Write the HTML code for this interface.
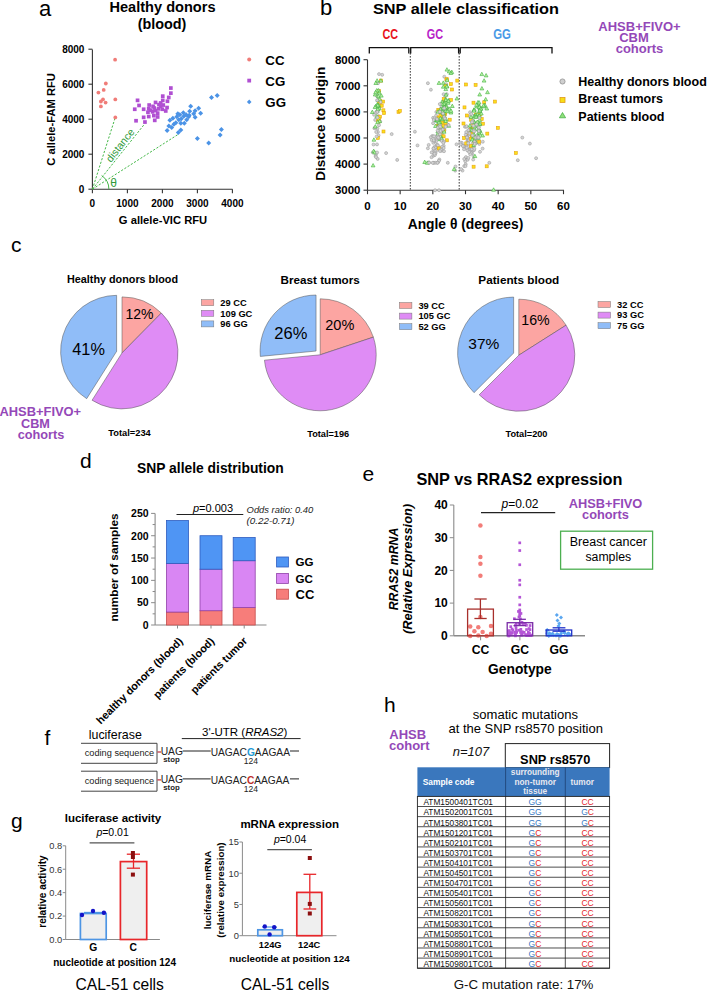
<!DOCTYPE html>
<html><head><meta charset="utf-8"><style>
html,body{margin:0;padding:0;background:#fff;width:707px;height:991px;overflow:hidden}
svg{display:block;font-family:"Liberation Sans", sans-serif}
</style></head><body>
<svg width="707" height="991" viewBox="0 0 707 991">
<text x="39" y="15.5" font-size="22" text-anchor="start" fill="#000">a</text>
<text x="162.5" y="12" font-size="14.3" font-weight="bold" text-anchor="middle" fill="#000" textLength="106" lengthAdjust="spacingAndGlyphs">Healthy donors</text>
<text x="162" y="29.4" font-size="14.3" font-weight="bold" text-anchor="middle" fill="#000" textLength="48.7" lengthAdjust="spacingAndGlyphs">(blood)</text>
<line x1="92.4" y1="189.2" x2="92.4" y2="49.4" stroke="#333" stroke-width="1.1"/>
<line x1="92.4" y1="189.2" x2="232.5" y2="189.2" stroke="#333" stroke-width="1.1"/>
<line x1="88.4" y1="189.2" x2="92.4" y2="189.2" stroke="#333" stroke-width="1.1"/>
<text x="84.4" y="192.79999999999998" font-size="10" font-weight="bold" text-anchor="end" fill="#000">0</text>
<line x1="88.4" y1="154.2" x2="92.4" y2="154.2" stroke="#333" stroke-width="1.1"/>
<text x="84.4" y="157.79999999999998" font-size="10" font-weight="bold" text-anchor="end" fill="#000">2000</text>
<line x1="88.4" y1="119.19999999999999" x2="92.4" y2="119.19999999999999" stroke="#333" stroke-width="1.1"/>
<text x="84.4" y="122.79999999999998" font-size="10" font-weight="bold" text-anchor="end" fill="#000">4000</text>
<line x1="88.4" y1="84.19999999999997" x2="92.4" y2="84.19999999999997" stroke="#333" stroke-width="1.1"/>
<text x="84.4" y="87.79999999999997" font-size="10" font-weight="bold" text-anchor="end" fill="#000">6000</text>
<line x1="88.4" y1="49.19999999999999" x2="92.4" y2="49.19999999999999" stroke="#333" stroke-width="1.1"/>
<text x="84.4" y="52.79999999999999" font-size="10" font-weight="bold" text-anchor="end" fill="#000">8000</text>
<line x1="92.4" y1="189.2" x2="92.4" y2="193.2" stroke="#333" stroke-width="1.1"/>
<text x="92.4" y="207" font-size="10" font-weight="bold" text-anchor="middle" fill="#000">0</text>
<line x1="127.4" y1="189.2" x2="127.4" y2="193.2" stroke="#333" stroke-width="1.1"/>
<text x="127.4" y="207" font-size="10" font-weight="bold" text-anchor="middle" fill="#000">1000</text>
<line x1="162.4" y1="189.2" x2="162.4" y2="193.2" stroke="#333" stroke-width="1.1"/>
<text x="162.4" y="207" font-size="10" font-weight="bold" text-anchor="middle" fill="#000">2000</text>
<line x1="197.40000000000003" y1="189.2" x2="197.40000000000003" y2="193.2" stroke="#333" stroke-width="1.1"/>
<text x="197.40000000000003" y="207" font-size="10" font-weight="bold" text-anchor="middle" fill="#000">3000</text>
<line x1="232.4" y1="189.2" x2="232.4" y2="193.2" stroke="#333" stroke-width="1.1"/>
<text x="232.4" y="207" font-size="10" font-weight="bold" text-anchor="middle" fill="#000">4000</text>
<text x="55" y="119.4" font-size="11.2" font-weight="bold" text-anchor="middle" fill="#000" transform="rotate(-90 55 119.4)">C allele-FAM RFU</text>
<text x="163" y="224" font-size="11.2" font-weight="bold" text-anchor="middle" fill="#000">G allele-VIC RFU</text>
<line x1="92.4" y1="189.2" x2="115.3" y2="117.4" stroke="#44b848" stroke-width="1.0" stroke-dasharray="2.2,1.6"/>
<line x1="92.4" y1="189.2" x2="145" y2="123.5" stroke="#44b848" stroke-width="1.0" stroke-dasharray="2.2,1.6"/>
<line x1="92.4" y1="189.2" x2="178" y2="134.5" stroke="#44b848" stroke-width="1.0" stroke-dasharray="2.2,1.6"/>
<path d="M 108.9 189.2 A 16.5 16.5 0 0 0 101.63 175.52" fill="none" stroke="#44b848" stroke-width="1"/>
<text x="113.5" y="186.5" font-size="12" text-anchor="middle" fill="#2f9a3a">θ</text>
<text x="123" y="147.5" font-size="10.5" text-anchor="middle" fill="#2f9a3a" transform="rotate(-52 123 147.5)">distance</text>
<circle cx="115.1" cy="59.7" r="1.9" fill="#f07c78" stroke="none" stroke-width="0.6"/>
<circle cx="105.8" cy="83.5" r="1.9" fill="#f07c78" stroke="none" stroke-width="0.6"/>
<circle cx="103.7" cy="89.9" r="1.9" fill="#f07c78" stroke="none" stroke-width="0.6"/>
<circle cx="98.4" cy="92.6" r="1.9" fill="#f07c78" stroke="none" stroke-width="0.6"/>
<circle cx="103.0" cy="99.4" r="1.9" fill="#f07c78" stroke="none" stroke-width="0.6"/>
<circle cx="100.9" cy="101.5" r="1.9" fill="#f07c78" stroke="none" stroke-width="0.6"/>
<circle cx="105.6" cy="102.6" r="1.9" fill="#f07c78" stroke="none" stroke-width="0.6"/>
<circle cx="100.9" cy="106.4" r="1.9" fill="#f07c78" stroke="none" stroke-width="0.6"/>
<circle cx="115.3" cy="99.4" r="1.9" fill="#f07c78" stroke="none" stroke-width="0.6"/>
<circle cx="115.3" cy="117.4" r="1.9" fill="#f07c78" stroke="none" stroke-width="0.6"/>
<rect x="169.0" y="86.2" width="3.7" height="3.7" fill="#b04fd2" stroke="none" stroke-width="1"/>
<rect x="169.0" y="91.3" width="3.7" height="3.7" fill="#b04fd2" stroke="none" stroke-width="1"/>
<rect x="160.9" y="94.3" width="3.7" height="3.7" fill="#b04fd2" stroke="none" stroke-width="1"/>
<rect x="166.9" y="95.6" width="3.7" height="3.7" fill="#b04fd2" stroke="none" stroke-width="1"/>
<rect x="135.7" y="98.5" width="3.7" height="3.7" fill="#b04fd2" stroke="none" stroke-width="1"/>
<rect x="153.7" y="100.6" width="3.7" height="3.7" fill="#b04fd2" stroke="none" stroke-width="1"/>
<rect x="160.9" y="98.5" width="3.7" height="3.7" fill="#b04fd2" stroke="none" stroke-width="1"/>
<rect x="165.6" y="99.4" width="3.7" height="3.7" fill="#b04fd2" stroke="none" stroke-width="1"/>
<rect x="137.2" y="103.6" width="3.7" height="3.7" fill="#b04fd2" stroke="none" stroke-width="1"/>
<rect x="147.3" y="103.2" width="3.7" height="3.7" fill="#b04fd2" stroke="none" stroke-width="1"/>
<rect x="157.1" y="102.8" width="3.7" height="3.7" fill="#b04fd2" stroke="none" stroke-width="1"/>
<rect x="161.4" y="103.2" width="3.7" height="3.7" fill="#b04fd2" stroke="none" stroke-width="1"/>
<rect x="132.9" y="107.4" width="3.7" height="3.7" fill="#b04fd2" stroke="none" stroke-width="1"/>
<rect x="141.8" y="107.4" width="3.7" height="3.7" fill="#b04fd2" stroke="none" stroke-width="1"/>
<rect x="146.9" y="107.0" width="3.7" height="3.7" fill="#b04fd2" stroke="none" stroke-width="1"/>
<rect x="152.4" y="106.2" width="3.7" height="3.7" fill="#b04fd2" stroke="none" stroke-width="1"/>
<rect x="156.7" y="107.0" width="3.7" height="3.7" fill="#b04fd2" stroke="none" stroke-width="1"/>
<rect x="160.5" y="107.4" width="3.7" height="3.7" fill="#b04fd2" stroke="none" stroke-width="1"/>
<rect x="165.2" y="105.7" width="3.7" height="3.7" fill="#b04fd2" stroke="none" stroke-width="1"/>
<rect x="163.9" y="109.1" width="3.7" height="3.7" fill="#b04fd2" stroke="none" stroke-width="1"/>
<rect x="146.1" y="110.4" width="3.7" height="3.7" fill="#b04fd2" stroke="none" stroke-width="1"/>
<rect x="150.7" y="110.0" width="3.7" height="3.7" fill="#b04fd2" stroke="none" stroke-width="1"/>
<rect x="155.8" y="111.3" width="3.7" height="3.7" fill="#b04fd2" stroke="none" stroke-width="1"/>
<rect x="141.8" y="115.5" width="3.7" height="3.7" fill="#b04fd2" stroke="none" stroke-width="1"/>
<rect x="146.9" y="114.7" width="3.7" height="3.7" fill="#b04fd2" stroke="none" stroke-width="1"/>
<rect x="152.0" y="113.8" width="3.7" height="3.7" fill="#b04fd2" stroke="none" stroke-width="1"/>
<rect x="155.8" y="115.1" width="3.7" height="3.7" fill="#b04fd2" stroke="none" stroke-width="1"/>
<rect x="134.2" y="118.9" width="3.7" height="3.7" fill="#b04fd2" stroke="none" stroke-width="1"/>
<rect x="143.1" y="120.2" width="3.7" height="3.7" fill="#b04fd2" stroke="none" stroke-width="1"/>
<rect x="152.9" y="118.5" width="3.7" height="3.7" fill="#b04fd2" stroke="none" stroke-width="1"/>
<rect x="151.2" y="104.5" width="3.7" height="3.7" fill="#b04fd2" stroke="none" stroke-width="1"/>
<rect x="158.8" y="101.1" width="3.7" height="3.7" fill="#b04fd2" stroke="none" stroke-width="1"/>
<rect x="148.6" y="108.3" width="3.7" height="3.7" fill="#b04fd2" stroke="none" stroke-width="1"/>
<rect x="153.7" y="108.7" width="3.7" height="3.7" fill="#b04fd2" stroke="none" stroke-width="1"/>
<rect x="158.8" y="104.5" width="3.7" height="3.7" fill="#b04fd2" stroke="none" stroke-width="1"/>
<path d="M167.1 128.1L169.6 130.6L167.1 133.1L164.6 130.6Z" fill="#4b93e6"/>
<path d="M178.3 130.1L180.8 132.6L178.3 135.1L175.8 132.6Z" fill="#4b93e6"/>
<path d="M180.8 127.6L183.3 130.1L180.8 132.6L178.3 130.1Z" fill="#4b93e6"/>
<path d="M171.7 125.1L174.2 127.6L171.7 130.1L169.2 127.6Z" fill="#4b93e6"/>
<path d="M168.9 123.6L171.4 126.1L168.9 128.6L166.4 126.1Z" fill="#4b93e6"/>
<path d="M169.9 117.7L172.4 120.2L169.9 122.7L167.4 120.2Z" fill="#4b93e6"/>
<path d="M172.9 115.7L175.4 118.2L172.9 120.7L170.4 118.2Z" fill="#4b93e6"/>
<path d="M175.8 120.2L178.3 122.7L175.8 125.2L173.3 122.7Z" fill="#4b93e6"/>
<path d="M178.8 117.2L181.3 119.7L178.8 122.2L176.3 119.7Z" fill="#4b93e6"/>
<path d="M179.8 112.3L182.3 114.8L179.8 117.3L177.3 114.8Z" fill="#4b93e6"/>
<path d="M183.3 110.3L185.8 112.8L183.3 115.3L180.8 112.8Z" fill="#4b93e6"/>
<path d="M181.3 116.2L183.8 118.7L181.3 121.2L178.8 118.7Z" fill="#4b93e6"/>
<path d="M184.3 120.7L186.8 123.2L184.3 125.7L181.8 123.2Z" fill="#4b93e6"/>
<path d="M186.7 117.2L189.2 119.7L186.7 122.2L184.2 119.7Z" fill="#4b93e6"/>
<path d="M188.7 114.2L191.2 116.7L188.7 119.2L186.2 116.7Z" fill="#4b93e6"/>
<path d="M189.7 108.8L192.2 111.3L189.7 113.8L187.2 111.3Z" fill="#4b93e6"/>
<path d="M190.7 103.8L193.2 106.3L190.7 108.8L188.2 106.3Z" fill="#4b93e6"/>
<path d="M189.2 112.7L191.7 115.2L189.2 117.7L186.7 115.2Z" fill="#4b93e6"/>
<path d="M193.7 111.3L196.2 113.8L193.7 116.3L191.2 113.8Z" fill="#4b93e6"/>
<path d="M195.1 114.7L197.6 117.2L195.1 119.7L192.6 117.2Z" fill="#4b93e6"/>
<path d="M195.1 108.3L197.6 110.8L195.1 113.3L192.6 110.8Z" fill="#4b93e6"/>
<path d="M198.6 105.8L201.1 108.3L198.6 110.8L196.1 108.3Z" fill="#4b93e6"/>
<path d="M200.6 110.8L203.1 113.3L200.6 115.8L198.1 113.3Z" fill="#4b93e6"/>
<path d="M183.8 113.7L186.3 116.2L183.8 118.7L181.3 116.2Z" fill="#4b93e6"/>
<path d="M176.8 114.2L179.3 116.7L176.8 119.2L174.3 116.7Z" fill="#4b93e6"/>
<path d="M173.9 121.7L176.4 124.2L173.9 126.7L171.4 124.2Z" fill="#4b93e6"/>
<path d="M186.2 112.3L188.7 114.8L186.2 117.3L183.7 114.8Z" fill="#4b93e6"/>
<path d="M180.8 120.7L183.3 123.2L180.8 125.7L178.3 123.2Z" fill="#4b93e6"/>
<path d="M177.8 111.3L180.3 113.8L177.8 116.3L175.3 113.8Z" fill="#4b93e6"/>
<path d="M211.5 94.9L214.0 97.4L211.5 99.9L209.0 97.4Z" fill="#4b93e6"/>
<path d="M217.2 92.9L219.7 95.4L217.2 97.9L214.7 95.4Z" fill="#4b93e6"/>
<path d="M221.4 127.1L223.9 129.6L221.4 132.1L218.9 129.6Z" fill="#4b93e6"/>
<path d="M220.1 132.5L222.6 135.0L220.1 137.5L217.6 135.0Z" fill="#4b93e6"/>
<path d="M197.4 136.0L199.9 138.5L197.4 141.0L194.9 138.5Z" fill="#4b93e6"/>
<path d="M208.7 140.5L211.2 143.0L208.7 145.5L206.2 143.0Z" fill="#4b93e6"/>
<circle cx="249.2" cy="59.6" r="2" fill="#f07c78" stroke="none" stroke-width="0.6"/>
<text x="265.3" y="64.7" font-size="13.3" font-weight="bold" text-anchor="start" fill="#000">CC</text>
<rect x="247.3" y="78.7" width="3.8" height="3.8" fill="#b04fd2" stroke="none" stroke-width="1"/>
<text x="265.3" y="85.6" font-size="13.3" font-weight="bold" text-anchor="start" fill="#000">CG</text>
<path d="M249.2 99.6L251.5 101.9L249.2 104.2L246.9 101.9Z" fill="#4b93e6"/>
<text x="265.3" y="106.5" font-size="13.3" font-weight="bold" text-anchor="start" fill="#000">GG</text>
<text x="320" y="15" font-size="22" text-anchor="start" fill="#000">b</text>
<text x="466" y="14" font-size="15.5" font-weight="bold" text-anchor="middle" fill="#000" textLength="186" lengthAdjust="spacingAndGlyphs">SNP allele classification</text>
<line x1="367.5" y1="190.2" x2="367.5" y2="59.8" stroke="#333" stroke-width="1.1"/>
<line x1="367.5" y1="190.2" x2="564" y2="190.2" stroke="#333" stroke-width="1.1"/>
<line x1="363.5" y1="190.2" x2="367.5" y2="190.2" stroke="#333" stroke-width="1.1"/>
<text x="360.5" y="194.2" font-size="11.5" font-weight="bold" text-anchor="end" fill="#000">3000</text>
<line x1="363.5" y1="164.1" x2="367.5" y2="164.1" stroke="#333" stroke-width="1.1"/>
<text x="360.5" y="168.1" font-size="11.5" font-weight="bold" text-anchor="end" fill="#000">4000</text>
<line x1="363.5" y1="138.0" x2="367.5" y2="138.0" stroke="#333" stroke-width="1.1"/>
<text x="360.5" y="142.0" font-size="11.5" font-weight="bold" text-anchor="end" fill="#000">5000</text>
<line x1="363.5" y1="111.89999999999998" x2="367.5" y2="111.89999999999998" stroke="#333" stroke-width="1.1"/>
<text x="360.5" y="115.89999999999998" font-size="11.5" font-weight="bold" text-anchor="end" fill="#000">6000</text>
<line x1="363.5" y1="85.79999999999998" x2="367.5" y2="85.79999999999998" stroke="#333" stroke-width="1.1"/>
<text x="360.5" y="89.79999999999998" font-size="11.5" font-weight="bold" text-anchor="end" fill="#000">7000</text>
<line x1="363.5" y1="59.69999999999999" x2="367.5" y2="59.69999999999999" stroke="#333" stroke-width="1.1"/>
<text x="360.5" y="63.69999999999999" font-size="11.5" font-weight="bold" text-anchor="end" fill="#000">8000</text>
<line x1="367.5" y1="190.2" x2="367.5" y2="194.2" stroke="#333" stroke-width="1.1"/>
<text x="367.5" y="210" font-size="11.5" font-weight="bold" text-anchor="middle" fill="#000">0</text>
<line x1="400.1666666666667" y1="190.2" x2="400.1666666666667" y2="194.2" stroke="#333" stroke-width="1.1"/>
<text x="400.1666666666667" y="210" font-size="11.5" font-weight="bold" text-anchor="middle" fill="#000">10</text>
<line x1="432.8333333333333" y1="190.2" x2="432.8333333333333" y2="194.2" stroke="#333" stroke-width="1.1"/>
<text x="432.8333333333333" y="210" font-size="11.5" font-weight="bold" text-anchor="middle" fill="#000">20</text>
<line x1="465.5" y1="190.2" x2="465.5" y2="194.2" stroke="#333" stroke-width="1.1"/>
<text x="465.5" y="210" font-size="11.5" font-weight="bold" text-anchor="middle" fill="#000">30</text>
<line x1="498.16666666666663" y1="190.2" x2="498.16666666666663" y2="194.2" stroke="#333" stroke-width="1.1"/>
<text x="498.16666666666663" y="210" font-size="11.5" font-weight="bold" text-anchor="middle" fill="#000">40</text>
<line x1="530.8333333333334" y1="190.2" x2="530.8333333333334" y2="194.2" stroke="#333" stroke-width="1.1"/>
<text x="530.8333333333334" y="210" font-size="11.5" font-weight="bold" text-anchor="middle" fill="#000">50</text>
<line x1="563.5" y1="190.2" x2="563.5" y2="194.2" stroke="#333" stroke-width="1.1"/>
<text x="563.5" y="210" font-size="11.5" font-weight="bold" text-anchor="middle" fill="#000">60</text>
<text x="324.6" y="123.7" font-size="13.5" font-weight="bold" text-anchor="middle" fill="#000" transform="rotate(-90 324.6 123.7)">Distance to origin</text>
<text x="465.5" y="228.5" font-size="13.8" font-weight="bold" text-anchor="middle" fill="#000">Angle θ (degrees)</text>
<path d="M369.3 53.5V47.6H408.8V53.5" fill="none" stroke="#111" stroke-width="1.3"/>
<path d="M410.7 53.5V47.6H458.6V53.5" fill="none" stroke="#111" stroke-width="1.3"/>
<path d="M460.2 53.5V47.6H552V53.5" fill="none" stroke="#111" stroke-width="1.3"/>
<line x1="410.3" y1="50" x2="410.3" y2="190" stroke="#222" stroke-width="0.9" stroke-dasharray="1.6,1.4"/>
<line x1="459.2" y1="50" x2="459.2" y2="190" stroke="#222" stroke-width="0.9" stroke-dasharray="1.6,1.4"/>
<text x="390.2" y="38.9" font-size="14" font-weight="bold" text-anchor="middle" fill="#e8141c" textLength="15.6" lengthAdjust="spacingAndGlyphs">CC</text>
<text x="435" y="38.9" font-size="14" font-weight="bold" text-anchor="middle" fill="#b81fc8" textLength="16.3" lengthAdjust="spacingAndGlyphs">GC</text>
<text x="502" y="38.9" font-size="14" font-weight="bold" text-anchor="middle" fill="#4a9ae6" textLength="17.7" lengthAdjust="spacingAndGlyphs">GG</text>
<text x="639.5" y="30.5" font-size="13" font-weight="bold" text-anchor="middle" fill="#9448b8">AHSB+FIVO+</text>
<text x="634" y="41.8" font-size="13" font-weight="bold" text-anchor="middle" fill="#9448b8">CBM</text>
<text x="639.5" y="53" font-size="13" font-weight="bold" text-anchor="middle" fill="#9448b8">cohorts</text>
<circle cx="562.5" cy="81.5" r="2.6" fill="#cfcfcf" stroke="#888" stroke-width="0.7"/>
<text x="578.3" y="85.5" font-size="12.5" font-weight="bold" text-anchor="start" fill="#000">Healthy donors blood</text>
<rect x="560" y="97.5" width="5" height="5" fill="#f7de16" stroke="#e09a1a" stroke-width="0.8"/>
<text x="578.3" y="103.3" font-size="12.5" font-weight="bold" text-anchor="start" fill="#000">Breast tumors</text>
<path d="M562.5 112.5L565.6 117.8H559.4Z" fill="#8fe07a" stroke="#3aa83a" stroke-width="0.7"/>
<text x="578.3" y="120.8" font-size="12.5" font-weight="bold" text-anchor="start" fill="#000">Patients blood</text>
<circle cx="463.1" cy="145.4" r="1.5" fill="#d4d4d4" stroke="#9a9a9a" stroke-width="0.55"/>
<circle cx="446.8" cy="107.8" r="1.5" fill="#d4d4d4" stroke="#9a9a9a" stroke-width="0.55"/>
<circle cx="436.5" cy="145.1" r="1.5" fill="#d4d4d4" stroke="#9a9a9a" stroke-width="0.55"/>
<circle cx="434.2" cy="147.8" r="1.5" fill="#d4d4d4" stroke="#9a9a9a" stroke-width="0.55"/>
<circle cx="482.6" cy="148.6" r="1.5" fill="#d4d4d4" stroke="#9a9a9a" stroke-width="0.55"/>
<circle cx="522.3" cy="137.6" r="1.5" fill="#d4d4d4" stroke="#9a9a9a" stroke-width="0.55"/>
<circle cx="473.7" cy="132.0" r="1.5" fill="#d4d4d4" stroke="#9a9a9a" stroke-width="0.55"/>
<circle cx="377.0" cy="144.4" r="1.5" fill="#d4d4d4" stroke="#9a9a9a" stroke-width="0.55"/>
<circle cx="466.7" cy="158.9" r="1.5" fill="#d4d4d4" stroke="#9a9a9a" stroke-width="0.55"/>
<circle cx="477.1" cy="126.3" r="1.5" fill="#d4d4d4" stroke="#9a9a9a" stroke-width="0.55"/>
<circle cx="432.2" cy="136.0" r="1.5" fill="#d4d4d4" stroke="#9a9a9a" stroke-width="0.55"/>
<circle cx="441.2" cy="114.0" r="1.5" fill="#d4d4d4" stroke="#9a9a9a" stroke-width="0.55"/>
<circle cx="466.7" cy="148.3" r="1.5" fill="#d4d4d4" stroke="#9a9a9a" stroke-width="0.55"/>
<circle cx="438.6" cy="110.4" r="1.5" fill="#d4d4d4" stroke="#9a9a9a" stroke-width="0.55"/>
<circle cx="465.9" cy="159.8" r="1.5" fill="#d4d4d4" stroke="#9a9a9a" stroke-width="0.55"/>
<circle cx="472.1" cy="136.7" r="1.5" fill="#d4d4d4" stroke="#9a9a9a" stroke-width="0.55"/>
<circle cx="472.5" cy="143.6" r="1.5" fill="#d4d4d4" stroke="#9a9a9a" stroke-width="0.55"/>
<circle cx="435.3" cy="140.3" r="1.5" fill="#d4d4d4" stroke="#9a9a9a" stroke-width="0.55"/>
<circle cx="439.5" cy="127.6" r="1.5" fill="#d4d4d4" stroke="#9a9a9a" stroke-width="0.55"/>
<circle cx="466.2" cy="146.7" r="1.5" fill="#d4d4d4" stroke="#9a9a9a" stroke-width="0.55"/>
<circle cx="472.4" cy="121.5" r="1.5" fill="#d4d4d4" stroke="#9a9a9a" stroke-width="0.55"/>
<circle cx="439.2" cy="130.4" r="1.5" fill="#d4d4d4" stroke="#9a9a9a" stroke-width="0.55"/>
<circle cx="433.1" cy="117.8" r="1.5" fill="#d4d4d4" stroke="#9a9a9a" stroke-width="0.55"/>
<circle cx="465.3" cy="161.2" r="1.5" fill="#d4d4d4" stroke="#9a9a9a" stroke-width="0.55"/>
<circle cx="437.5" cy="121.1" r="1.5" fill="#d4d4d4" stroke="#9a9a9a" stroke-width="0.55"/>
<circle cx="474.7" cy="127.2" r="1.5" fill="#d4d4d4" stroke="#9a9a9a" stroke-width="0.55"/>
<circle cx="471.6" cy="137.0" r="1.5" fill="#d4d4d4" stroke="#9a9a9a" stroke-width="0.55"/>
<circle cx="439.4" cy="159.5" r="1.5" fill="#d4d4d4" stroke="#9a9a9a" stroke-width="0.55"/>
<circle cx="378.3" cy="110.1" r="1.5" fill="#d4d4d4" stroke="#9a9a9a" stroke-width="0.55"/>
<circle cx="474.8" cy="138.7" r="1.5" fill="#d4d4d4" stroke="#9a9a9a" stroke-width="0.55"/>
<circle cx="466.9" cy="135.2" r="1.5" fill="#d4d4d4" stroke="#9a9a9a" stroke-width="0.55"/>
<circle cx="471.3" cy="146.7" r="1.5" fill="#d4d4d4" stroke="#9a9a9a" stroke-width="0.55"/>
<circle cx="467.6" cy="140.7" r="1.5" fill="#d4d4d4" stroke="#9a9a9a" stroke-width="0.55"/>
<circle cx="435.4" cy="152.4" r="1.5" fill="#d4d4d4" stroke="#9a9a9a" stroke-width="0.55"/>
<circle cx="473.3" cy="137.3" r="1.5" fill="#d4d4d4" stroke="#9a9a9a" stroke-width="0.55"/>
<circle cx="443.6" cy="94.2" r="1.5" fill="#d4d4d4" stroke="#9a9a9a" stroke-width="0.55"/>
<circle cx="376.9" cy="96.0" r="1.5" fill="#d4d4d4" stroke="#9a9a9a" stroke-width="0.55"/>
<circle cx="377.4" cy="128.4" r="1.5" fill="#d4d4d4" stroke="#9a9a9a" stroke-width="0.55"/>
<circle cx="436.3" cy="139.0" r="1.5" fill="#d4d4d4" stroke="#9a9a9a" stroke-width="0.55"/>
<circle cx="378.7" cy="117.3" r="1.5" fill="#d4d4d4" stroke="#9a9a9a" stroke-width="0.55"/>
<circle cx="472.7" cy="146.8" r="1.5" fill="#d4d4d4" stroke="#9a9a9a" stroke-width="0.55"/>
<circle cx="436.1" cy="141.3" r="1.5" fill="#d4d4d4" stroke="#9a9a9a" stroke-width="0.55"/>
<circle cx="464.9" cy="126.8" r="1.5" fill="#d4d4d4" stroke="#9a9a9a" stroke-width="0.55"/>
<circle cx="444.2" cy="127.9" r="1.5" fill="#d4d4d4" stroke="#9a9a9a" stroke-width="0.55"/>
<circle cx="466.0" cy="136.7" r="1.5" fill="#d4d4d4" stroke="#9a9a9a" stroke-width="0.55"/>
<circle cx="461.8" cy="142.8" r="1.5" fill="#d4d4d4" stroke="#9a9a9a" stroke-width="0.55"/>
<circle cx="464.1" cy="146.6" r="1.5" fill="#d4d4d4" stroke="#9a9a9a" stroke-width="0.55"/>
<circle cx="467.5" cy="137.9" r="1.5" fill="#d4d4d4" stroke="#9a9a9a" stroke-width="0.55"/>
<circle cx="456.5" cy="144.3" r="1.5" fill="#d4d4d4" stroke="#9a9a9a" stroke-width="0.55"/>
<circle cx="470.1" cy="128.7" r="1.5" fill="#d4d4d4" stroke="#9a9a9a" stroke-width="0.55"/>
<circle cx="439.0" cy="120.9" r="1.5" fill="#d4d4d4" stroke="#9a9a9a" stroke-width="0.55"/>
<circle cx="436.6" cy="136.6" r="1.5" fill="#d4d4d4" stroke="#9a9a9a" stroke-width="0.55"/>
<circle cx="444.8" cy="113.6" r="1.5" fill="#d4d4d4" stroke="#9a9a9a" stroke-width="0.55"/>
<circle cx="455.2" cy="170.6" r="1.5" fill="#d4d4d4" stroke="#9a9a9a" stroke-width="0.55"/>
<circle cx="442.4" cy="150.5" r="1.5" fill="#d4d4d4" stroke="#9a9a9a" stroke-width="0.55"/>
<circle cx="469.1" cy="147.3" r="1.5" fill="#d4d4d4" stroke="#9a9a9a" stroke-width="0.55"/>
<circle cx="433.2" cy="162.8" r="1.5" fill="#d4d4d4" stroke="#9a9a9a" stroke-width="0.55"/>
<circle cx="467.3" cy="136.9" r="1.5" fill="#d4d4d4" stroke="#9a9a9a" stroke-width="0.55"/>
<circle cx="430.8" cy="137.3" r="1.5" fill="#d4d4d4" stroke="#9a9a9a" stroke-width="0.55"/>
<circle cx="473.9" cy="124.8" r="1.5" fill="#d4d4d4" stroke="#9a9a9a" stroke-width="0.55"/>
<circle cx="438.7" cy="133.4" r="1.5" fill="#d4d4d4" stroke="#9a9a9a" stroke-width="0.55"/>
<circle cx="438.6" cy="125.8" r="1.5" fill="#d4d4d4" stroke="#9a9a9a" stroke-width="0.55"/>
<circle cx="444.5" cy="130.1" r="1.5" fill="#d4d4d4" stroke="#9a9a9a" stroke-width="0.55"/>
<circle cx="373.5" cy="144.5" r="1.5" fill="#d4d4d4" stroke="#9a9a9a" stroke-width="0.55"/>
<circle cx="380.2" cy="121.4" r="1.5" fill="#d4d4d4" stroke="#9a9a9a" stroke-width="0.55"/>
<circle cx="460.3" cy="142.7" r="1.5" fill="#d4d4d4" stroke="#9a9a9a" stroke-width="0.55"/>
<circle cx="471.2" cy="152.2" r="1.5" fill="#d4d4d4" stroke="#9a9a9a" stroke-width="0.55"/>
<circle cx="444.4" cy="120.5" r="1.5" fill="#d4d4d4" stroke="#9a9a9a" stroke-width="0.55"/>
<circle cx="433.9" cy="141.3" r="1.5" fill="#d4d4d4" stroke="#9a9a9a" stroke-width="0.55"/>
<circle cx="472.1" cy="151.0" r="1.5" fill="#d4d4d4" stroke="#9a9a9a" stroke-width="0.55"/>
<circle cx="375.9" cy="154.5" r="1.5" fill="#d4d4d4" stroke="#9a9a9a" stroke-width="0.55"/>
<circle cx="470.2" cy="130.6" r="1.5" fill="#d4d4d4" stroke="#9a9a9a" stroke-width="0.55"/>
<circle cx="474.8" cy="115.3" r="1.5" fill="#d4d4d4" stroke="#9a9a9a" stroke-width="0.55"/>
<circle cx="463.8" cy="146.4" r="1.5" fill="#d4d4d4" stroke="#9a9a9a" stroke-width="0.55"/>
<circle cx="473.2" cy="159.6" r="1.5" fill="#d4d4d4" stroke="#9a9a9a" stroke-width="0.55"/>
<circle cx="438.0" cy="148.0" r="1.5" fill="#d4d4d4" stroke="#9a9a9a" stroke-width="0.55"/>
<circle cx="466.8" cy="137.1" r="1.5" fill="#d4d4d4" stroke="#9a9a9a" stroke-width="0.55"/>
<circle cx="446.9" cy="110.7" r="1.5" fill="#d4d4d4" stroke="#9a9a9a" stroke-width="0.55"/>
<circle cx="467.3" cy="150.4" r="1.5" fill="#d4d4d4" stroke="#9a9a9a" stroke-width="0.55"/>
<circle cx="438.3" cy="123.7" r="1.5" fill="#d4d4d4" stroke="#9a9a9a" stroke-width="0.55"/>
<circle cx="455.5" cy="166.5" r="1.5" fill="#d4d4d4" stroke="#9a9a9a" stroke-width="0.55"/>
<circle cx="517.8" cy="160.2" r="1.5" fill="#d4d4d4" stroke="#9a9a9a" stroke-width="0.55"/>
<circle cx="441.0" cy="114.9" r="1.5" fill="#d4d4d4" stroke="#9a9a9a" stroke-width="0.55"/>
<circle cx="443.8" cy="129.9" r="1.5" fill="#d4d4d4" stroke="#9a9a9a" stroke-width="0.55"/>
<circle cx="379.5" cy="107.1" r="1.5" fill="#d4d4d4" stroke="#9a9a9a" stroke-width="0.55"/>
<circle cx="467.6" cy="141.7" r="1.5" fill="#d4d4d4" stroke="#9a9a9a" stroke-width="0.55"/>
<circle cx="468.7" cy="134.3" r="1.5" fill="#d4d4d4" stroke="#9a9a9a" stroke-width="0.55"/>
<circle cx="439.9" cy="147.5" r="1.5" fill="#d4d4d4" stroke="#9a9a9a" stroke-width="0.55"/>
<circle cx="442.4" cy="136.4" r="1.5" fill="#d4d4d4" stroke="#9a9a9a" stroke-width="0.55"/>
<circle cx="433.3" cy="142.8" r="1.5" fill="#d4d4d4" stroke="#9a9a9a" stroke-width="0.55"/>
<circle cx="437.2" cy="144.7" r="1.5" fill="#d4d4d4" stroke="#9a9a9a" stroke-width="0.55"/>
<circle cx="437.6" cy="147.2" r="1.5" fill="#d4d4d4" stroke="#9a9a9a" stroke-width="0.55"/>
<circle cx="470.4" cy="151.8" r="1.5" fill="#d4d4d4" stroke="#9a9a9a" stroke-width="0.55"/>
<circle cx="476.8" cy="123.5" r="1.5" fill="#d4d4d4" stroke="#9a9a9a" stroke-width="0.55"/>
<circle cx="444.3" cy="109.7" r="1.5" fill="#d4d4d4" stroke="#9a9a9a" stroke-width="0.55"/>
<circle cx="437.6" cy="119.2" r="1.5" fill="#d4d4d4" stroke="#9a9a9a" stroke-width="0.55"/>
<circle cx="377.7" cy="158.9" r="1.5" fill="#d4d4d4" stroke="#9a9a9a" stroke-width="0.55"/>
<circle cx="377.9" cy="131.9" r="1.5" fill="#d4d4d4" stroke="#9a9a9a" stroke-width="0.55"/>
<circle cx="470.0" cy="116.5" r="1.5" fill="#d4d4d4" stroke="#9a9a9a" stroke-width="0.55"/>
<circle cx="434.1" cy="162.8" r="1.5" fill="#d4d4d4" stroke="#9a9a9a" stroke-width="0.55"/>
<circle cx="470.4" cy="149.0" r="1.5" fill="#d4d4d4" stroke="#9a9a9a" stroke-width="0.55"/>
<circle cx="443.2" cy="136.6" r="1.5" fill="#d4d4d4" stroke="#9a9a9a" stroke-width="0.55"/>
<circle cx="468.2" cy="146.7" r="1.5" fill="#d4d4d4" stroke="#9a9a9a" stroke-width="0.55"/>
<circle cx="471.8" cy="123.6" r="1.5" fill="#d4d4d4" stroke="#9a9a9a" stroke-width="0.55"/>
<circle cx="444.0" cy="151.2" r="1.5" fill="#d4d4d4" stroke="#9a9a9a" stroke-width="0.55"/>
<circle cx="432.4" cy="152.3" r="1.5" fill="#d4d4d4" stroke="#9a9a9a" stroke-width="0.55"/>
<circle cx="443.7" cy="145.8" r="1.5" fill="#d4d4d4" stroke="#9a9a9a" stroke-width="0.55"/>
<circle cx="431.6" cy="140.0" r="1.5" fill="#d4d4d4" stroke="#9a9a9a" stroke-width="0.55"/>
<circle cx="434.5" cy="118.3" r="1.5" fill="#d4d4d4" stroke="#9a9a9a" stroke-width="0.55"/>
<circle cx="435.4" cy="162.8" r="1.5" fill="#d4d4d4" stroke="#9a9a9a" stroke-width="0.55"/>
<circle cx="433.8" cy="120.1" r="1.5" fill="#d4d4d4" stroke="#9a9a9a" stroke-width="0.55"/>
<circle cx="382.2" cy="74.8" r="1.5" fill="#d4d4d4" stroke="#9a9a9a" stroke-width="0.55"/>
<circle cx="428.9" cy="162.3" r="1.5" fill="#d4d4d4" stroke="#9a9a9a" stroke-width="0.55"/>
<circle cx="442.1" cy="130.8" r="1.5" fill="#d4d4d4" stroke="#9a9a9a" stroke-width="0.55"/>
<circle cx="479.1" cy="108.7" r="1.5" fill="#d4d4d4" stroke="#9a9a9a" stroke-width="0.55"/>
<circle cx="433.2" cy="136.4" r="1.5" fill="#d4d4d4" stroke="#9a9a9a" stroke-width="0.55"/>
<circle cx="433.5" cy="148.6" r="1.5" fill="#d4d4d4" stroke="#9a9a9a" stroke-width="0.55"/>
<circle cx="472.2" cy="136.8" r="1.5" fill="#d4d4d4" stroke="#9a9a9a" stroke-width="0.55"/>
<circle cx="441.2" cy="124.3" r="1.5" fill="#d4d4d4" stroke="#9a9a9a" stroke-width="0.55"/>
<circle cx="444.6" cy="120.3" r="1.5" fill="#d4d4d4" stroke="#9a9a9a" stroke-width="0.55"/>
<circle cx="464.0" cy="149.3" r="1.5" fill="#d4d4d4" stroke="#9a9a9a" stroke-width="0.55"/>
<circle cx="442.0" cy="112.3" r="1.5" fill="#d4d4d4" stroke="#9a9a9a" stroke-width="0.55"/>
<circle cx="435.5" cy="153.3" r="1.5" fill="#d4d4d4" stroke="#9a9a9a" stroke-width="0.55"/>
<circle cx="477.7" cy="139.8" r="1.5" fill="#d4d4d4" stroke="#9a9a9a" stroke-width="0.55"/>
<circle cx="466.1" cy="126.8" r="1.5" fill="#d4d4d4" stroke="#9a9a9a" stroke-width="0.55"/>
<circle cx="438.7" cy="138.5" r="1.5" fill="#d4d4d4" stroke="#9a9a9a" stroke-width="0.55"/>
<circle cx="447.9" cy="124.8" r="1.5" fill="#d4d4d4" stroke="#9a9a9a" stroke-width="0.55"/>
<circle cx="480.0" cy="151.8" r="1.5" fill="#d4d4d4" stroke="#9a9a9a" stroke-width="0.55"/>
<circle cx="441.2" cy="107.4" r="1.5" fill="#d4d4d4" stroke="#9a9a9a" stroke-width="0.55"/>
<circle cx="441.9" cy="134.1" r="1.5" fill="#d4d4d4" stroke="#9a9a9a" stroke-width="0.55"/>
<circle cx="378.0" cy="83.2" r="1.5" fill="#d4d4d4" stroke="#9a9a9a" stroke-width="0.55"/>
<circle cx="447.8" cy="162.8" r="1.5" fill="#d4d4d4" stroke="#9a9a9a" stroke-width="0.55"/>
<circle cx="434.7" cy="146.8" r="1.5" fill="#d4d4d4" stroke="#9a9a9a" stroke-width="0.55"/>
<circle cx="460.6" cy="144.4" r="1.5" fill="#d4d4d4" stroke="#9a9a9a" stroke-width="0.55"/>
<circle cx="428.7" cy="144.9" r="1.5" fill="#d4d4d4" stroke="#9a9a9a" stroke-width="0.55"/>
<circle cx="438.1" cy="162.1" r="1.5" fill="#d4d4d4" stroke="#9a9a9a" stroke-width="0.55"/>
<circle cx="471.3" cy="148.1" r="1.5" fill="#d4d4d4" stroke="#9a9a9a" stroke-width="0.55"/>
<circle cx="433.3" cy="155.8" r="1.5" fill="#d4d4d4" stroke="#9a9a9a" stroke-width="0.55"/>
<circle cx="445.7" cy="125.0" r="1.5" fill="#d4d4d4" stroke="#9a9a9a" stroke-width="0.55"/>
<circle cx="433.1" cy="123.2" r="1.5" fill="#d4d4d4" stroke="#9a9a9a" stroke-width="0.55"/>
<circle cx="374.4" cy="128.3" r="1.5" fill="#d4d4d4" stroke="#9a9a9a" stroke-width="0.55"/>
<circle cx="446.2" cy="84.2" r="1.5" fill="#d4d4d4" stroke="#9a9a9a" stroke-width="0.55"/>
<circle cx="442.2" cy="146.7" r="1.5" fill="#d4d4d4" stroke="#9a9a9a" stroke-width="0.55"/>
<circle cx="467.9" cy="140.5" r="1.5" fill="#d4d4d4" stroke="#9a9a9a" stroke-width="0.55"/>
<circle cx="441.3" cy="135.9" r="1.5" fill="#d4d4d4" stroke="#9a9a9a" stroke-width="0.55"/>
<circle cx="376.3" cy="112.0" r="1.5" fill="#d4d4d4" stroke="#9a9a9a" stroke-width="0.55"/>
<circle cx="478.5" cy="127.2" r="1.5" fill="#d4d4d4" stroke="#9a9a9a" stroke-width="0.55"/>
<circle cx="391.7" cy="134.1" r="1.5" fill="#d4d4d4" stroke="#9a9a9a" stroke-width="0.55"/>
<circle cx="474.4" cy="137.3" r="1.5" fill="#d4d4d4" stroke="#9a9a9a" stroke-width="0.55"/>
<circle cx="462.9" cy="146.0" r="1.5" fill="#d4d4d4" stroke="#9a9a9a" stroke-width="0.55"/>
<circle cx="466.6" cy="126.2" r="1.5" fill="#d4d4d4" stroke="#9a9a9a" stroke-width="0.55"/>
<circle cx="374.1" cy="114.8" r="1.5" fill="#d4d4d4" stroke="#9a9a9a" stroke-width="0.55"/>
<circle cx="442.1" cy="127.5" r="1.5" fill="#d4d4d4" stroke="#9a9a9a" stroke-width="0.55"/>
<circle cx="375.2" cy="119.9" r="1.5" fill="#d4d4d4" stroke="#9a9a9a" stroke-width="0.55"/>
<circle cx="472.0" cy="135.2" r="1.5" fill="#d4d4d4" stroke="#9a9a9a" stroke-width="0.55"/>
<circle cx="474.0" cy="150.2" r="1.5" fill="#d4d4d4" stroke="#9a9a9a" stroke-width="0.55"/>
<circle cx="472.1" cy="153.4" r="1.5" fill="#d4d4d4" stroke="#9a9a9a" stroke-width="0.55"/>
<circle cx="536.1" cy="158.2" r="1.5" fill="#d4d4d4" stroke="#9a9a9a" stroke-width="0.55"/>
<circle cx="442.1" cy="114.2" r="1.5" fill="#d4d4d4" stroke="#9a9a9a" stroke-width="0.55"/>
<circle cx="489.3" cy="162.8" r="1.5" fill="#d4d4d4" stroke="#9a9a9a" stroke-width="0.55"/>
<circle cx="434.9" cy="155.1" r="1.5" fill="#d4d4d4" stroke="#9a9a9a" stroke-width="0.55"/>
<circle cx="397.2" cy="159.9" r="1.5" fill="#d4d4d4" stroke="#9a9a9a" stroke-width="0.55"/>
<circle cx="375.0" cy="127.6" r="1.5" fill="#d4d4d4" stroke="#9a9a9a" stroke-width="0.55"/>
<circle cx="442.0" cy="112.5" r="1.5" fill="#d4d4d4" stroke="#9a9a9a" stroke-width="0.55"/>
<circle cx="431.5" cy="157.2" r="1.5" fill="#d4d4d4" stroke="#9a9a9a" stroke-width="0.55"/>
<circle cx="445.0" cy="120.1" r="1.5" fill="#d4d4d4" stroke="#9a9a9a" stroke-width="0.55"/>
<circle cx="471.2" cy="153.2" r="1.5" fill="#d4d4d4" stroke="#9a9a9a" stroke-width="0.55"/>
<circle cx="436.3" cy="112.0" r="1.5" fill="#d4d4d4" stroke="#9a9a9a" stroke-width="0.55"/>
<circle cx="468.8" cy="141.0" r="1.5" fill="#d4d4d4" stroke="#9a9a9a" stroke-width="0.55"/>
<circle cx="438.2" cy="118.5" r="1.5" fill="#d4d4d4" stroke="#9a9a9a" stroke-width="0.55"/>
<circle cx="435.5" cy="147.9" r="1.5" fill="#d4d4d4" stroke="#9a9a9a" stroke-width="0.55"/>
<circle cx="473.9" cy="137.9" r="1.5" fill="#d4d4d4" stroke="#9a9a9a" stroke-width="0.55"/>
<circle cx="378.7" cy="116.1" r="1.5" fill="#d4d4d4" stroke="#9a9a9a" stroke-width="0.55"/>
<circle cx="470.2" cy="154.3" r="1.5" fill="#d4d4d4" stroke="#9a9a9a" stroke-width="0.55"/>
<circle cx="434.1" cy="140.9" r="1.5" fill="#d4d4d4" stroke="#9a9a9a" stroke-width="0.55"/>
<circle cx="441.2" cy="150.7" r="1.5" fill="#d4d4d4" stroke="#9a9a9a" stroke-width="0.55"/>
<circle cx="378.5" cy="135.4" r="1.5" fill="#d4d4d4" stroke="#9a9a9a" stroke-width="0.55"/>
<circle cx="431.7" cy="152.4" r="1.5" fill="#d4d4d4" stroke="#9a9a9a" stroke-width="0.55"/>
<circle cx="469.1" cy="152.0" r="1.5" fill="#d4d4d4" stroke="#9a9a9a" stroke-width="0.55"/>
<circle cx="473.6" cy="156.4" r="1.5" fill="#d4d4d4" stroke="#9a9a9a" stroke-width="0.55"/>
<circle cx="440.9" cy="130.5" r="1.5" fill="#d4d4d4" stroke="#9a9a9a" stroke-width="0.55"/>
<circle cx="446.8" cy="94.2" r="1.5" fill="#d4d4d4" stroke="#9a9a9a" stroke-width="0.55"/>
<circle cx="479.3" cy="143.9" r="1.5" fill="#d4d4d4" stroke="#9a9a9a" stroke-width="0.55"/>
<circle cx="436.1" cy="115.6" r="1.5" fill="#d4d4d4" stroke="#9a9a9a" stroke-width="0.55"/>
<circle cx="473.5" cy="147.9" r="1.5" fill="#d4d4d4" stroke="#9a9a9a" stroke-width="0.55"/>
<circle cx="469.2" cy="140.2" r="1.5" fill="#d4d4d4" stroke="#9a9a9a" stroke-width="0.55"/>
<circle cx="386.1" cy="153.1" r="1.5" fill="#d4d4d4" stroke="#9a9a9a" stroke-width="0.55"/>
<circle cx="462.5" cy="170.6" r="1.5" fill="#d4d4d4" stroke="#9a9a9a" stroke-width="0.55"/>
<circle cx="417.5" cy="145.4" r="1.5" fill="#d4d4d4" stroke="#9a9a9a" stroke-width="0.55"/>
<circle cx="445.7" cy="111.2" r="1.5" fill="#d4d4d4" stroke="#9a9a9a" stroke-width="0.55"/>
<circle cx="430.9" cy="89.7" r="1.5" fill="#d4d4d4" stroke="#9a9a9a" stroke-width="0.55"/>
<circle cx="439.6" cy="121.1" r="1.5" fill="#d4d4d4" stroke="#9a9a9a" stroke-width="0.55"/>
<circle cx="434.5" cy="153.7" r="1.5" fill="#d4d4d4" stroke="#9a9a9a" stroke-width="0.55"/>
<circle cx="476.8" cy="135.6" r="1.5" fill="#d4d4d4" stroke="#9a9a9a" stroke-width="0.55"/>
<circle cx="437.3" cy="149.9" r="1.5" fill="#d4d4d4" stroke="#9a9a9a" stroke-width="0.55"/>
<circle cx="465.8" cy="134.6" r="1.5" fill="#d4d4d4" stroke="#9a9a9a" stroke-width="0.55"/>
<circle cx="471.9" cy="149.2" r="1.5" fill="#d4d4d4" stroke="#9a9a9a" stroke-width="0.55"/>
<circle cx="478.8" cy="130.6" r="1.5" fill="#d4d4d4" stroke="#9a9a9a" stroke-width="0.55"/>
<circle cx="372.8" cy="152.4" r="1.5" fill="#d4d4d4" stroke="#9a9a9a" stroke-width="0.55"/>
<circle cx="470.2" cy="129.2" r="1.5" fill="#d4d4d4" stroke="#9a9a9a" stroke-width="0.55"/>
<circle cx="437.9" cy="145.4" r="1.5" fill="#d4d4d4" stroke="#9a9a9a" stroke-width="0.55"/>
<circle cx="529.9" cy="143.6" r="1.5" fill="#d4d4d4" stroke="#9a9a9a" stroke-width="0.55"/>
<circle cx="445.2" cy="96.5" r="1.5" fill="#d4d4d4" stroke="#9a9a9a" stroke-width="0.55"/>
<circle cx="375.6" cy="156.1" r="1.5" fill="#d4d4d4" stroke="#9a9a9a" stroke-width="0.55"/>
<circle cx="444.3" cy="76.7" r="1.5" fill="#d4d4d4" stroke="#9a9a9a" stroke-width="0.55"/>
<rect x="379.6" y="79.1" width="3.0" height="3.0" fill="#fbe01a" stroke="#e8a417" stroke-width="0.6"/>
<rect x="381.9" y="108.8" width="3.0" height="3.0" fill="#fbe01a" stroke="#e8a417" stroke-width="0.6"/>
<rect x="382.6" y="111.6" width="3.0" height="3.0" fill="#fbe01a" stroke="#e8a417" stroke-width="0.6"/>
<rect x="376.9" y="120.2" width="3.0" height="3.0" fill="#fbe01a" stroke="#e8a417" stroke-width="0.6"/>
<rect x="381.6" y="100.1" width="3.0" height="3.0" fill="#fbe01a" stroke="#e8a417" stroke-width="0.6"/>
<rect x="378.8" y="101.0" width="3.0" height="3.0" fill="#fbe01a" stroke="#e8a417" stroke-width="0.6"/>
<rect x="376.3" y="136.5" width="3.0" height="3.0" fill="#fbe01a" stroke="#e8a417" stroke-width="0.6"/>
<rect x="376.8" y="119.2" width="3.0" height="3.0" fill="#fbe01a" stroke="#e8a417" stroke-width="0.6"/>
<rect x="377.3" y="102.0" width="3.0" height="3.0" fill="#fbe01a" stroke="#e8a417" stroke-width="0.6"/>
<rect x="378.3" y="99.1" width="3.0" height="3.0" fill="#fbe01a" stroke="#e8a417" stroke-width="0.6"/>
<rect x="378.4" y="115.2" width="3.0" height="3.0" fill="#fbe01a" stroke="#e8a417" stroke-width="0.6"/>
<rect x="380.2" y="104.2" width="3.0" height="3.0" fill="#fbe01a" stroke="#e8a417" stroke-width="0.6"/>
<rect x="377.5" y="117.3" width="3.0" height="3.0" fill="#fbe01a" stroke="#e8a417" stroke-width="0.6"/>
<rect x="382.0" y="130.0" width="3.0" height="3.0" fill="#fbe01a" stroke="#e8a417" stroke-width="0.6"/>
<rect x="377.6" y="89.6" width="3.0" height="3.0" fill="#fbe01a" stroke="#e8a417" stroke-width="0.6"/>
<rect x="440.7" y="117.2" width="3.0" height="3.0" fill="#fbe01a" stroke="#e8a417" stroke-width="0.6"/>
<rect x="442.2" y="97.6" width="3.0" height="3.0" fill="#fbe01a" stroke="#e8a417" stroke-width="0.6"/>
<rect x="439.1" y="133.8" width="3.0" height="3.0" fill="#fbe01a" stroke="#e8a417" stroke-width="0.6"/>
<rect x="443.9" y="121.5" width="3.0" height="3.0" fill="#fbe01a" stroke="#e8a417" stroke-width="0.6"/>
<rect x="436.5" y="124.3" width="3.0" height="3.0" fill="#fbe01a" stroke="#e8a417" stroke-width="0.6"/>
<rect x="448.2" y="118.2" width="3.0" height="3.0" fill="#fbe01a" stroke="#e8a417" stroke-width="0.6"/>
<rect x="442.7" y="113.8" width="3.0" height="3.0" fill="#fbe01a" stroke="#e8a417" stroke-width="0.6"/>
<rect x="443.4" y="112.9" width="3.0" height="3.0" fill="#fbe01a" stroke="#e8a417" stroke-width="0.6"/>
<rect x="449.5" y="98.5" width="3.0" height="3.0" fill="#fbe01a" stroke="#e8a417" stroke-width="0.6"/>
<rect x="445.3" y="138.8" width="3.0" height="3.0" fill="#fbe01a" stroke="#e8a417" stroke-width="0.6"/>
<rect x="440.7" y="113.1" width="3.0" height="3.0" fill="#fbe01a" stroke="#e8a417" stroke-width="0.6"/>
<rect x="444.9" y="77.8" width="3.0" height="3.0" fill="#fbe01a" stroke="#e8a417" stroke-width="0.6"/>
<rect x="449.3" y="82.6" width="3.0" height="3.0" fill="#fbe01a" stroke="#e8a417" stroke-width="0.6"/>
<rect x="442.6" y="129.1" width="3.0" height="3.0" fill="#fbe01a" stroke="#e8a417" stroke-width="0.6"/>
<rect x="442.7" y="101.5" width="3.0" height="3.0" fill="#fbe01a" stroke="#e8a417" stroke-width="0.6"/>
<rect x="437.3" y="146.9" width="3.0" height="3.0" fill="#fbe01a" stroke="#e8a417" stroke-width="0.6"/>
<rect x="437.1" y="116.0" width="3.0" height="3.0" fill="#fbe01a" stroke="#e8a417" stroke-width="0.6"/>
<rect x="443.9" y="84.4" width="3.0" height="3.0" fill="#fbe01a" stroke="#e8a417" stroke-width="0.6"/>
<rect x="440.2" y="119.2" width="3.0" height="3.0" fill="#fbe01a" stroke="#e8a417" stroke-width="0.6"/>
<rect x="437.6" y="125.3" width="3.0" height="3.0" fill="#fbe01a" stroke="#e8a417" stroke-width="0.6"/>
<rect x="443.6" y="111.5" width="3.0" height="3.0" fill="#fbe01a" stroke="#e8a417" stroke-width="0.6"/>
<rect x="440.9" y="121.0" width="3.0" height="3.0" fill="#fbe01a" stroke="#e8a417" stroke-width="0.6"/>
<rect x="442.1" y="134.8" width="3.0" height="3.0" fill="#fbe01a" stroke="#e8a417" stroke-width="0.6"/>
<rect x="441.9" y="124.7" width="3.0" height="3.0" fill="#fbe01a" stroke="#e8a417" stroke-width="0.6"/>
<rect x="438.5" y="127.2" width="3.0" height="3.0" fill="#fbe01a" stroke="#e8a417" stroke-width="0.6"/>
<rect x="437.3" y="109.6" width="3.0" height="3.0" fill="#fbe01a" stroke="#e8a417" stroke-width="0.6"/>
<rect x="445.5" y="77.8" width="3.0" height="3.0" fill="#fbe01a" stroke="#e8a417" stroke-width="0.6"/>
<rect x="438.9" y="114.1" width="3.0" height="3.0" fill="#fbe01a" stroke="#e8a417" stroke-width="0.6"/>
<rect x="450.5" y="88.0" width="3.0" height="3.0" fill="#fbe01a" stroke="#e8a417" stroke-width="0.6"/>
<rect x="436.8" y="108.3" width="3.0" height="3.0" fill="#fbe01a" stroke="#e8a417" stroke-width="0.6"/>
<rect x="469.3" y="144.4" width="3.0" height="3.0" fill="#fbe01a" stroke="#e8a417" stroke-width="0.6"/>
<rect x="470.2" y="135.8" width="3.0" height="3.0" fill="#fbe01a" stroke="#e8a417" stroke-width="0.6"/>
<rect x="464.4" y="83.0" width="3.0" height="3.0" fill="#fbe01a" stroke="#e8a417" stroke-width="0.6"/>
<rect x="465.3" y="114.0" width="3.0" height="3.0" fill="#fbe01a" stroke="#e8a417" stroke-width="0.6"/>
<rect x="482.7" y="100.7" width="3.0" height="3.0" fill="#fbe01a" stroke="#e8a417" stroke-width="0.6"/>
<rect x="485.8" y="132.1" width="3.0" height="3.0" fill="#fbe01a" stroke="#e8a417" stroke-width="0.6"/>
<rect x="481.4" y="122.2" width="3.0" height="3.0" fill="#fbe01a" stroke="#e8a417" stroke-width="0.6"/>
<rect x="469.5" y="118.2" width="3.0" height="3.0" fill="#fbe01a" stroke="#e8a417" stroke-width="0.6"/>
<rect x="471.6" y="129.9" width="3.0" height="3.0" fill="#fbe01a" stroke="#e8a417" stroke-width="0.6"/>
<rect x="474.3" y="113.0" width="3.0" height="3.0" fill="#fbe01a" stroke="#e8a417" stroke-width="0.6"/>
<rect x="474.1" y="83.4" width="3.0" height="3.0" fill="#fbe01a" stroke="#e8a417" stroke-width="0.6"/>
<rect x="467.6" y="131.4" width="3.0" height="3.0" fill="#fbe01a" stroke="#e8a417" stroke-width="0.6"/>
<rect x="462.6" y="136.6" width="3.0" height="3.0" fill="#fbe01a" stroke="#e8a417" stroke-width="0.6"/>
<rect x="477.7" y="140.2" width="3.0" height="3.0" fill="#fbe01a" stroke="#e8a417" stroke-width="0.6"/>
<rect x="471.8" y="122.4" width="3.0" height="3.0" fill="#fbe01a" stroke="#e8a417" stroke-width="0.6"/>
<rect x="480.2" y="117.5" width="3.0" height="3.0" fill="#fbe01a" stroke="#e8a417" stroke-width="0.6"/>
<rect x="478.5" y="113.0" width="3.0" height="3.0" fill="#fbe01a" stroke="#e8a417" stroke-width="0.6"/>
<rect x="470.5" y="132.9" width="3.0" height="3.0" fill="#fbe01a" stroke="#e8a417" stroke-width="0.6"/>
<rect x="471.4" y="136.6" width="3.0" height="3.0" fill="#fbe01a" stroke="#e8a417" stroke-width="0.6"/>
<rect x="469.5" y="137.3" width="3.0" height="3.0" fill="#fbe01a" stroke="#e8a417" stroke-width="0.6"/>
<rect x="471.2" y="126.4" width="3.0" height="3.0" fill="#fbe01a" stroke="#e8a417" stroke-width="0.6"/>
<rect x="469.3" y="128.0" width="3.0" height="3.0" fill="#fbe01a" stroke="#e8a417" stroke-width="0.6"/>
<rect x="472.0" y="101.2" width="3.0" height="3.0" fill="#fbe01a" stroke="#e8a417" stroke-width="0.6"/>
<rect x="473.0" y="140.6" width="3.0" height="3.0" fill="#fbe01a" stroke="#e8a417" stroke-width="0.6"/>
<rect x="464.7" y="141.9" width="3.0" height="3.0" fill="#fbe01a" stroke="#e8a417" stroke-width="0.6"/>
<rect x="462.0" y="122.0" width="3.0" height="3.0" fill="#fbe01a" stroke="#e8a417" stroke-width="0.6"/>
<rect x="472.1" y="165.2" width="3.0" height="3.0" fill="#fbe01a" stroke="#e8a417" stroke-width="0.6"/>
<rect x="463.0" y="105.9" width="3.0" height="3.0" fill="#fbe01a" stroke="#e8a417" stroke-width="0.6"/>
<rect x="397.0" y="110.4" width="3.0" height="3.0" fill="#fbe01a" stroke="#e8a417" stroke-width="0.6"/>
<rect x="398.3" y="109.4" width="3.0" height="3.0" fill="#fbe01a" stroke="#e8a417" stroke-width="0.6"/>
<rect x="514.3" y="151.5" width="3.0" height="3.0" fill="#fbe01a" stroke="#e8a417" stroke-width="0.6"/>
<rect x="485.2" y="164.8" width="3.0" height="3.0" fill="#fbe01a" stroke="#e8a417" stroke-width="0.6"/>
<rect x="496.3" y="126.3" width="3.0" height="3.0" fill="#fbe01a" stroke="#e8a417" stroke-width="0.6"/>
<rect x="493.4" y="100.1" width="3.0" height="3.0" fill="#fbe01a" stroke="#e8a417" stroke-width="0.6"/>
<rect x="455.8" y="79.1" width="3.0" height="3.0" fill="#fbe01a" stroke="#e8a417" stroke-width="0.6"/>
<path d="M377.9 98.0L379.8 101.4H376.0Z" fill="#b8f2a2" stroke="#3fae3f" stroke-width="0.6"/>
<path d="M377.2 102.6L379.1 106.0H375.3Z" fill="#b8f2a2" stroke="#3fae3f" stroke-width="0.6"/>
<path d="M375.7 104.3L377.6 107.7H373.8Z" fill="#b8f2a2" stroke="#3fae3f" stroke-width="0.6"/>
<path d="M375.3 124.6L377.2 128.0H373.4Z" fill="#b8f2a2" stroke="#3fae3f" stroke-width="0.6"/>
<path d="M379.7 97.4L381.6 100.8H377.8Z" fill="#b8f2a2" stroke="#3fae3f" stroke-width="0.6"/>
<path d="M379.2 90.8L381.1 94.2H377.3Z" fill="#b8f2a2" stroke="#3fae3f" stroke-width="0.6"/>
<path d="M378.4 94.2L380.3 97.6H376.5Z" fill="#b8f2a2" stroke="#3fae3f" stroke-width="0.6"/>
<path d="M378.1 104.3L380.0 107.7H376.2Z" fill="#b8f2a2" stroke="#3fae3f" stroke-width="0.6"/>
<path d="M377.1 78.7L379.0 82.1H375.2Z" fill="#b8f2a2" stroke="#3fae3f" stroke-width="0.6"/>
<path d="M379.7 119.2L381.6 122.6H377.8Z" fill="#b8f2a2" stroke="#3fae3f" stroke-width="0.6"/>
<path d="M378.5 103.2L380.4 106.6H376.6Z" fill="#b8f2a2" stroke="#3fae3f" stroke-width="0.6"/>
<path d="M375.2 92.6L377.1 96.0H373.3Z" fill="#b8f2a2" stroke="#3fae3f" stroke-width="0.6"/>
<path d="M380.9 78.7L382.8 82.1H379.0Z" fill="#b8f2a2" stroke="#3fae3f" stroke-width="0.6"/>
<path d="M378.1 104.4L380.0 107.8H376.2Z" fill="#b8f2a2" stroke="#3fae3f" stroke-width="0.6"/>
<path d="M375.1 105.2L377.0 108.6H373.2Z" fill="#b8f2a2" stroke="#3fae3f" stroke-width="0.6"/>
<path d="M377.2 109.3L379.1 112.7H375.3Z" fill="#b8f2a2" stroke="#3fae3f" stroke-width="0.6"/>
<path d="M378.6 88.5L380.5 91.9H376.7Z" fill="#b8f2a2" stroke="#3fae3f" stroke-width="0.6"/>
<path d="M379.1 106.4L381.0 109.8H377.2Z" fill="#b8f2a2" stroke="#3fae3f" stroke-width="0.6"/>
<path d="M377.6 120.3L379.5 123.7H375.7Z" fill="#b8f2a2" stroke="#3fae3f" stroke-width="0.6"/>
<path d="M376.8 88.5L378.7 91.9H374.9Z" fill="#b8f2a2" stroke="#3fae3f" stroke-width="0.6"/>
<path d="M373.9 137.8L375.8 141.2H372.0Z" fill="#b8f2a2" stroke="#3fae3f" stroke-width="0.6"/>
<path d="M377.7 103.4L379.6 106.8H375.8Z" fill="#b8f2a2" stroke="#3fae3f" stroke-width="0.6"/>
<path d="M375.8 81.1L377.7 84.5H373.9Z" fill="#b8f2a2" stroke="#3fae3f" stroke-width="0.6"/>
<path d="M377.8 107.4L379.7 110.8H375.9Z" fill="#b8f2a2" stroke="#3fae3f" stroke-width="0.6"/>
<path d="M372.3 110.1L374.2 113.5H370.4Z" fill="#b8f2a2" stroke="#3fae3f" stroke-width="0.6"/>
<path d="M381.3 93.7L383.2 97.1H379.4Z" fill="#b8f2a2" stroke="#3fae3f" stroke-width="0.6"/>
<path d="M375.6 90.4L377.5 93.8H373.7Z" fill="#b8f2a2" stroke="#3fae3f" stroke-width="0.6"/>
<path d="M376.8 114.4L378.7 117.8H374.9Z" fill="#b8f2a2" stroke="#3fae3f" stroke-width="0.6"/>
<path d="M448.8 123.9L450.7 127.3H446.9Z" fill="#b8f2a2" stroke="#3fae3f" stroke-width="0.6"/>
<path d="M456.9 96.6L458.8 100.0H455.0Z" fill="#b8f2a2" stroke="#3fae3f" stroke-width="0.6"/>
<path d="M443.7 101.8L445.6 105.2H441.8Z" fill="#b8f2a2" stroke="#3fae3f" stroke-width="0.6"/>
<path d="M449.4 106.9L451.3 110.3H447.5Z" fill="#b8f2a2" stroke="#3fae3f" stroke-width="0.6"/>
<path d="M445.4 109.2L447.3 112.6H443.5Z" fill="#b8f2a2" stroke="#3fae3f" stroke-width="0.6"/>
<path d="M442.1 99.9L444.0 103.3H440.2Z" fill="#b8f2a2" stroke="#3fae3f" stroke-width="0.6"/>
<path d="M442.6 106.5L444.5 109.9H440.7Z" fill="#b8f2a2" stroke="#3fae3f" stroke-width="0.6"/>
<path d="M444.1 129.8L446.0 133.2H442.2Z" fill="#b8f2a2" stroke="#3fae3f" stroke-width="0.6"/>
<path d="M445.6 97.4L447.5 100.8H443.7Z" fill="#b8f2a2" stroke="#3fae3f" stroke-width="0.6"/>
<path d="M435.5 124.1L437.4 127.5H433.6Z" fill="#b8f2a2" stroke="#3fae3f" stroke-width="0.6"/>
<path d="M444.7 100.5L446.6 103.9H442.8Z" fill="#b8f2a2" stroke="#3fae3f" stroke-width="0.6"/>
<path d="M440.2 137.3L442.1 140.7H438.3Z" fill="#b8f2a2" stroke="#3fae3f" stroke-width="0.6"/>
<path d="M440.6 134.5L442.5 137.9H438.7Z" fill="#b8f2a2" stroke="#3fae3f" stroke-width="0.6"/>
<path d="M445.4 106.3L447.3 109.7H443.5Z" fill="#b8f2a2" stroke="#3fae3f" stroke-width="0.6"/>
<path d="M445.0 105.0L446.9 108.4H443.1Z" fill="#b8f2a2" stroke="#3fae3f" stroke-width="0.6"/>
<path d="M440.3 128.0L442.2 131.4H438.4Z" fill="#b8f2a2" stroke="#3fae3f" stroke-width="0.6"/>
<path d="M442.1 117.4L444.0 120.8H440.2Z" fill="#b8f2a2" stroke="#3fae3f" stroke-width="0.6"/>
<path d="M446.5 104.1L448.4 107.5H444.6Z" fill="#b8f2a2" stroke="#3fae3f" stroke-width="0.6"/>
<path d="M439.0 81.0L440.9 84.4H437.1Z" fill="#b8f2a2" stroke="#3fae3f" stroke-width="0.6"/>
<path d="M444.1 101.9L446.0 105.3H442.2Z" fill="#b8f2a2" stroke="#3fae3f" stroke-width="0.6"/>
<path d="M451.8 70.1L453.7 73.5H449.9Z" fill="#b8f2a2" stroke="#3fae3f" stroke-width="0.6"/>
<path d="M441.7 136.7L443.6 140.1H439.8Z" fill="#b8f2a2" stroke="#3fae3f" stroke-width="0.6"/>
<path d="M446.1 117.5L448.0 120.9H444.2Z" fill="#b8f2a2" stroke="#3fae3f" stroke-width="0.6"/>
<path d="M441.4 126.6L443.3 130.0H439.5Z" fill="#b8f2a2" stroke="#3fae3f" stroke-width="0.6"/>
<path d="M443.3 110.9L445.2 114.3H441.4Z" fill="#b8f2a2" stroke="#3fae3f" stroke-width="0.6"/>
<path d="M436.7 118.6L438.6 122.0H434.8Z" fill="#b8f2a2" stroke="#3fae3f" stroke-width="0.6"/>
<path d="M448.2 100.9L450.1 104.3H446.3Z" fill="#b8f2a2" stroke="#3fae3f" stroke-width="0.6"/>
<path d="M440.5 109.9L442.4 113.3H438.6Z" fill="#b8f2a2" stroke="#3fae3f" stroke-width="0.6"/>
<path d="M446.2 105.3L448.1 108.7H444.3Z" fill="#b8f2a2" stroke="#3fae3f" stroke-width="0.6"/>
<path d="M443.5 111.7L445.4 115.1H441.6Z" fill="#b8f2a2" stroke="#3fae3f" stroke-width="0.6"/>
<path d="M443.3 84.8L445.2 88.2H441.4Z" fill="#b8f2a2" stroke="#3fae3f" stroke-width="0.6"/>
<path d="M436.5 118.2L438.4 121.6H434.6Z" fill="#b8f2a2" stroke="#3fae3f" stroke-width="0.6"/>
<path d="M440.0 120.6L441.9 124.0H438.1Z" fill="#b8f2a2" stroke="#3fae3f" stroke-width="0.6"/>
<path d="M439.6 125.0L441.5 128.4H437.7Z" fill="#b8f2a2" stroke="#3fae3f" stroke-width="0.6"/>
<path d="M447.1 78.2L449.0 81.6H445.2Z" fill="#b8f2a2" stroke="#3fae3f" stroke-width="0.6"/>
<path d="M450.9 110.6L452.8 114.0H449.0Z" fill="#b8f2a2" stroke="#3fae3f" stroke-width="0.6"/>
<path d="M438.1 109.7L440.0 113.1H436.2Z" fill="#b8f2a2" stroke="#3fae3f" stroke-width="0.6"/>
<path d="M441.7 101.9L443.6 105.3H439.8Z" fill="#b8f2a2" stroke="#3fae3f" stroke-width="0.6"/>
<path d="M443.3 80.9L445.2 84.3H441.4Z" fill="#b8f2a2" stroke="#3fae3f" stroke-width="0.6"/>
<path d="M437.5 118.5L439.4 121.9H435.6Z" fill="#b8f2a2" stroke="#3fae3f" stroke-width="0.6"/>
<path d="M440.8 107.0L442.7 110.4H438.9Z" fill="#b8f2a2" stroke="#3fae3f" stroke-width="0.6"/>
<path d="M442.6 109.8L444.5 113.2H440.7Z" fill="#b8f2a2" stroke="#3fae3f" stroke-width="0.6"/>
<path d="M445.7 119.1L447.6 122.5H443.8Z" fill="#b8f2a2" stroke="#3fae3f" stroke-width="0.6"/>
<path d="M446.1 92.8L448.0 96.2H444.2Z" fill="#b8f2a2" stroke="#3fae3f" stroke-width="0.6"/>
<path d="M438.5 124.0L440.4 127.4H436.6Z" fill="#b8f2a2" stroke="#3fae3f" stroke-width="0.6"/>
<path d="M452.3 104.1L454.2 107.5H450.4Z" fill="#b8f2a2" stroke="#3fae3f" stroke-width="0.6"/>
<path d="M440.4 116.4L442.3 119.8H438.5Z" fill="#b8f2a2" stroke="#3fae3f" stroke-width="0.6"/>
<path d="M438.9 120.5L440.8 123.9H437.0Z" fill="#b8f2a2" stroke="#3fae3f" stroke-width="0.6"/>
<path d="M441.2 125.2L443.1 128.6H439.3Z" fill="#b8f2a2" stroke="#3fae3f" stroke-width="0.6"/>
<path d="M447.0 84.4L448.9 87.8H445.1Z" fill="#b8f2a2" stroke="#3fae3f" stroke-width="0.6"/>
<path d="M437.6 117.4L439.5 120.8H435.7Z" fill="#b8f2a2" stroke="#3fae3f" stroke-width="0.6"/>
<path d="M444.3 105.1L446.2 108.5H442.4Z" fill="#b8f2a2" stroke="#3fae3f" stroke-width="0.6"/>
<path d="M437.8 129.5L439.7 132.9H435.9Z" fill="#b8f2a2" stroke="#3fae3f" stroke-width="0.6"/>
<path d="M447.2 109.4L449.1 112.8H445.3Z" fill="#b8f2a2" stroke="#3fae3f" stroke-width="0.6"/>
<path d="M445.9 98.1L447.8 101.5H444.0Z" fill="#b8f2a2" stroke="#3fae3f" stroke-width="0.6"/>
<path d="M444.3 114.2L446.2 117.6H442.4Z" fill="#b8f2a2" stroke="#3fae3f" stroke-width="0.6"/>
<path d="M451.0 108.9L452.9 112.3H449.1Z" fill="#b8f2a2" stroke="#3fae3f" stroke-width="0.6"/>
<path d="M440.3 127.9L442.2 131.3H438.4Z" fill="#b8f2a2" stroke="#3fae3f" stroke-width="0.6"/>
<path d="M445.8 87.2L447.7 90.6H443.9Z" fill="#b8f2a2" stroke="#3fae3f" stroke-width="0.6"/>
<path d="M446.8 84.5L448.7 87.9H444.9Z" fill="#b8f2a2" stroke="#3fae3f" stroke-width="0.6"/>
<path d="M443.0 106.2L444.9 109.6H441.1Z" fill="#b8f2a2" stroke="#3fae3f" stroke-width="0.6"/>
<path d="M437.8 132.1L439.7 135.5H435.9Z" fill="#b8f2a2" stroke="#3fae3f" stroke-width="0.6"/>
<path d="M450.8 71.1L452.7 74.5H448.9Z" fill="#b8f2a2" stroke="#3fae3f" stroke-width="0.6"/>
<path d="M448.3 98.4L450.2 101.8H446.4Z" fill="#b8f2a2" stroke="#3fae3f" stroke-width="0.6"/>
<path d="M448.5 99.0L450.4 102.4H446.6Z" fill="#b8f2a2" stroke="#3fae3f" stroke-width="0.6"/>
<path d="M474.1 114.2L476.0 117.6H472.2Z" fill="#b8f2a2" stroke="#3fae3f" stroke-width="0.6"/>
<path d="M477.2 112.4L479.1 115.8H475.3Z" fill="#b8f2a2" stroke="#3fae3f" stroke-width="0.6"/>
<path d="M475.6 113.3L477.5 116.7H473.7Z" fill="#b8f2a2" stroke="#3fae3f" stroke-width="0.6"/>
<path d="M474.0 134.7L475.9 138.1H472.1Z" fill="#b8f2a2" stroke="#3fae3f" stroke-width="0.6"/>
<path d="M484.8 103.0L486.7 106.4H482.9Z" fill="#b8f2a2" stroke="#3fae3f" stroke-width="0.6"/>
<path d="M479.5 122.5L481.4 125.9H477.6Z" fill="#b8f2a2" stroke="#3fae3f" stroke-width="0.6"/>
<path d="M480.0 106.9L481.9 110.3H478.1Z" fill="#b8f2a2" stroke="#3fae3f" stroke-width="0.6"/>
<path d="M475.6 140.1L477.5 143.5H473.7Z" fill="#b8f2a2" stroke="#3fae3f" stroke-width="0.6"/>
<path d="M479.7 131.7L481.6 135.1H477.8Z" fill="#b8f2a2" stroke="#3fae3f" stroke-width="0.6"/>
<path d="M480.9 106.5L482.8 109.9H479.0Z" fill="#b8f2a2" stroke="#3fae3f" stroke-width="0.6"/>
<path d="M474.9 154.2L476.8 157.6H473.0Z" fill="#b8f2a2" stroke="#3fae3f" stroke-width="0.6"/>
<path d="M473.9 107.8L475.8 111.2H472.0Z" fill="#b8f2a2" stroke="#3fae3f" stroke-width="0.6"/>
<path d="M479.3 103.9L481.2 107.3H477.4Z" fill="#b8f2a2" stroke="#3fae3f" stroke-width="0.6"/>
<path d="M474.4 120.5L476.3 123.9H472.5Z" fill="#b8f2a2" stroke="#3fae3f" stroke-width="0.6"/>
<path d="M473.9 132.4L475.8 135.8H472.0Z" fill="#b8f2a2" stroke="#3fae3f" stroke-width="0.6"/>
<path d="M481.9 86.5L483.8 89.9H480.0Z" fill="#b8f2a2" stroke="#3fae3f" stroke-width="0.6"/>
<path d="M475.3 114.8L477.2 118.2H473.4Z" fill="#b8f2a2" stroke="#3fae3f" stroke-width="0.6"/>
<path d="M474.2 126.7L476.1 130.1H472.3Z" fill="#b8f2a2" stroke="#3fae3f" stroke-width="0.6"/>
<path d="M478.8 130.6L480.7 134.0H476.9Z" fill="#b8f2a2" stroke="#3fae3f" stroke-width="0.6"/>
<path d="M479.9 121.7L481.8 125.1H478.0Z" fill="#b8f2a2" stroke="#3fae3f" stroke-width="0.6"/>
<path d="M478.5 134.4L480.4 137.8H476.6Z" fill="#b8f2a2" stroke="#3fae3f" stroke-width="0.6"/>
<path d="M479.6 118.2L481.5 121.6H477.7Z" fill="#b8f2a2" stroke="#3fae3f" stroke-width="0.6"/>
<path d="M473.9 119.3L475.8 122.7H472.0Z" fill="#b8f2a2" stroke="#3fae3f" stroke-width="0.6"/>
<path d="M477.9 100.5L479.8 103.9H476.0Z" fill="#b8f2a2" stroke="#3fae3f" stroke-width="0.6"/>
<path d="M473.8 119.9L475.7 123.3H471.9Z" fill="#b8f2a2" stroke="#3fae3f" stroke-width="0.6"/>
<path d="M476.2 114.9L478.1 118.3H474.3Z" fill="#b8f2a2" stroke="#3fae3f" stroke-width="0.6"/>
<path d="M479.0 113.8L480.9 117.2H477.1Z" fill="#b8f2a2" stroke="#3fae3f" stroke-width="0.6"/>
<path d="M471.0 127.7L472.9 131.1H469.1Z" fill="#b8f2a2" stroke="#3fae3f" stroke-width="0.6"/>
<path d="M481.3 111.6L483.2 115.0H479.4Z" fill="#b8f2a2" stroke="#3fae3f" stroke-width="0.6"/>
<path d="M474.4 107.8L476.3 111.2H472.5Z" fill="#b8f2a2" stroke="#3fae3f" stroke-width="0.6"/>
<path d="M479.7 109.1L481.6 112.5H477.8Z" fill="#b8f2a2" stroke="#3fae3f" stroke-width="0.6"/>
<path d="M479.3 113.8L481.2 117.2H477.4Z" fill="#b8f2a2" stroke="#3fae3f" stroke-width="0.6"/>
<path d="M477.4 122.5L479.3 125.9H475.5Z" fill="#b8f2a2" stroke="#3fae3f" stroke-width="0.6"/>
<path d="M477.1 104.5L479.0 107.9H475.2Z" fill="#b8f2a2" stroke="#3fae3f" stroke-width="0.6"/>
<path d="M474.3 138.5L476.2 141.9H472.4Z" fill="#b8f2a2" stroke="#3fae3f" stroke-width="0.6"/>
<path d="M471.0 115.0L472.9 118.4H469.1Z" fill="#b8f2a2" stroke="#3fae3f" stroke-width="0.6"/>
<path d="M478.2 127.5L480.1 130.9H476.3Z" fill="#b8f2a2" stroke="#3fae3f" stroke-width="0.6"/>
<path d="M477.3 120.0L479.2 123.4H475.4Z" fill="#b8f2a2" stroke="#3fae3f" stroke-width="0.6"/>
<path d="M478.3 135.9L480.2 139.3H476.4Z" fill="#b8f2a2" stroke="#3fae3f" stroke-width="0.6"/>
<path d="M479.7 92.6L481.6 96.0H477.8Z" fill="#b8f2a2" stroke="#3fae3f" stroke-width="0.6"/>
<path d="M471.8 128.3L473.7 131.7H469.9Z" fill="#b8f2a2" stroke="#3fae3f" stroke-width="0.6"/>
<path d="M479.2 105.0L481.1 108.4H477.3Z" fill="#b8f2a2" stroke="#3fae3f" stroke-width="0.6"/>
<path d="M480.2 129.2L482.1 132.6H478.3Z" fill="#b8f2a2" stroke="#3fae3f" stroke-width="0.6"/>
<path d="M480.8 106.9L482.7 110.3H478.9Z" fill="#b8f2a2" stroke="#3fae3f" stroke-width="0.6"/>
<path d="M473.7 143.1L475.6 146.5H471.8Z" fill="#b8f2a2" stroke="#3fae3f" stroke-width="0.6"/>
<path d="M474.0 108.8L475.9 112.2H472.1Z" fill="#b8f2a2" stroke="#3fae3f" stroke-width="0.6"/>
<path d="M484.1 104.5L486.0 107.9H482.2Z" fill="#b8f2a2" stroke="#3fae3f" stroke-width="0.6"/>
<path d="M476.5 103.0L478.4 106.4H474.6Z" fill="#b8f2a2" stroke="#3fae3f" stroke-width="0.6"/>
<path d="M479.4 128.0L481.3 131.4H477.5Z" fill="#b8f2a2" stroke="#3fae3f" stroke-width="0.6"/>
<path d="M483.5 103.6L485.4 107.0H481.6Z" fill="#b8f2a2" stroke="#3fae3f" stroke-width="0.6"/>
<path d="M479.1 100.6L481.0 104.0H477.2Z" fill="#b8f2a2" stroke="#3fae3f" stroke-width="0.6"/>
<path d="M469.9 123.7L471.8 127.1H468.0Z" fill="#b8f2a2" stroke="#3fae3f" stroke-width="0.6"/>
<path d="M486.8 106.6L488.7 110.0H484.9Z" fill="#b8f2a2" stroke="#3fae3f" stroke-width="0.6"/>
<path d="M474.7 124.5L476.6 127.9H472.8Z" fill="#b8f2a2" stroke="#3fae3f" stroke-width="0.6"/>
<path d="M479.8 108.5L481.7 111.9H477.9Z" fill="#b8f2a2" stroke="#3fae3f" stroke-width="0.6"/>
<path d="M472.2 137.5L474.1 140.9H470.3Z" fill="#b8f2a2" stroke="#3fae3f" stroke-width="0.6"/>
<path d="M482.6 133.6L484.5 137.0H480.7Z" fill="#b8f2a2" stroke="#3fae3f" stroke-width="0.6"/>
<path d="M479.0 128.1L480.9 131.5H477.1Z" fill="#b8f2a2" stroke="#3fae3f" stroke-width="0.6"/>
<path d="M487.5 90.3L489.4 93.7H485.6Z" fill="#b8f2a2" stroke="#3fae3f" stroke-width="0.6"/>
<path d="M485.7 97.4L487.6 100.8H483.8Z" fill="#b8f2a2" stroke="#3fae3f" stroke-width="0.6"/>
<path d="M373.1 163.5L375.0 166.9H371.2Z" fill="#b8f2a2" stroke="#3fae3f" stroke-width="0.6"/>
<path d="M424.7 160.1L426.6 163.5H422.8Z" fill="#b8f2a2" stroke="#3fae3f" stroke-width="0.6"/>
<path d="M427.3 160.9L429.2 164.3H425.4Z" fill="#b8f2a2" stroke="#3fae3f" stroke-width="0.6"/>
<path d="M454.1 167.2L456.0 170.6H452.2Z" fill="#b8f2a2" stroke="#3fae3f" stroke-width="0.6"/>
<path d="M493.6 187.8L495.5 191.2H491.7Z" fill="#b8f2a2" stroke="#3fae3f" stroke-width="0.6"/>
<path d="M481.8 72.2L483.7 75.6H479.9Z" fill="#b8f2a2" stroke="#3fae3f" stroke-width="0.6"/>
<path d="M486.1 73.5L488.0 76.9H484.2Z" fill="#b8f2a2" stroke="#3fae3f" stroke-width="0.6"/>
<path d="M484.1 78.7L486.0 82.1H482.2Z" fill="#b8f2a2" stroke="#3fae3f" stroke-width="0.6"/>
<path d="M446.9 67.7L448.8 71.1H445.0Z" fill="#b8f2a2" stroke="#3fae3f" stroke-width="0.6"/>
<path d="M449.2 69.5L451.1 72.9H447.3Z" fill="#b8f2a2" stroke="#3fae3f" stroke-width="0.6"/>
<path d="M373.7 149.1L375.6 152.5H371.8Z" fill="#b8f2a2" stroke="#3fae3f" stroke-width="0.6"/>
<path d="M374.7 150.5L376.6 153.9H372.8Z" fill="#b8f2a2" stroke="#3fae3f" stroke-width="0.6"/>
<circle cx="475.5" cy="137.6" r="1.5" fill="#d4d4d4" stroke="#9a9a9a" stroke-width="0.55"/>
<circle cx="435.3" cy="136.6" r="1.5" fill="#d4d4d4" stroke="#9a9a9a" stroke-width="0.55"/>
<circle cx="434.1" cy="136.3" r="1.5" fill="#d4d4d4" stroke="#9a9a9a" stroke-width="0.55"/>
<circle cx="466.7" cy="147.7" r="1.5" fill="#d4d4d4" stroke="#9a9a9a" stroke-width="0.55"/>
<circle cx="469.4" cy="133.4" r="1.5" fill="#d4d4d4" stroke="#9a9a9a" stroke-width="0.55"/>
<circle cx="470.1" cy="112.2" r="1.5" fill="#d4d4d4" stroke="#9a9a9a" stroke-width="0.55"/>
<circle cx="472.5" cy="120.9" r="1.5" fill="#d4d4d4" stroke="#9a9a9a" stroke-width="0.55"/>
<circle cx="441.7" cy="140.9" r="1.5" fill="#d4d4d4" stroke="#9a9a9a" stroke-width="0.55"/>
<circle cx="465.7" cy="164.3" r="1.5" fill="#d4d4d4" stroke="#9a9a9a" stroke-width="0.55"/>
<circle cx="476.4" cy="124.4" r="1.5" fill="#d4d4d4" stroke="#9a9a9a" stroke-width="0.55"/>
<circle cx="433.7" cy="140.2" r="1.5" fill="#d4d4d4" stroke="#9a9a9a" stroke-width="0.55"/>
<circle cx="473.6" cy="130.4" r="1.5" fill="#d4d4d4" stroke="#9a9a9a" stroke-width="0.55"/>
<circle cx="376.2" cy="132.0" r="1.5" fill="#d4d4d4" stroke="#9a9a9a" stroke-width="0.55"/>
<circle cx="440.5" cy="130.0" r="1.5" fill="#d4d4d4" stroke="#9a9a9a" stroke-width="0.55"/>
<circle cx="376.6" cy="136.5" r="1.5" fill="#d4d4d4" stroke="#9a9a9a" stroke-width="0.55"/>
<circle cx="439.9" cy="134.2" r="1.5" fill="#d4d4d4" stroke="#9a9a9a" stroke-width="0.55"/>
<circle cx="440.9" cy="149.7" r="1.5" fill="#d4d4d4" stroke="#9a9a9a" stroke-width="0.55"/>
<circle cx="472.5" cy="135.4" r="1.5" fill="#d4d4d4" stroke="#9a9a9a" stroke-width="0.55"/>
<circle cx="443.0" cy="113.5" r="1.5" fill="#d4d4d4" stroke="#9a9a9a" stroke-width="0.55"/>
<circle cx="444.3" cy="108.3" r="1.5" fill="#d4d4d4" stroke="#9a9a9a" stroke-width="0.55"/>
<circle cx="440.0" cy="151.0" r="1.5" fill="#d4d4d4" stroke="#9a9a9a" stroke-width="0.55"/>
<circle cx="439.0" cy="160.7" r="1.5" fill="#d4d4d4" stroke="#9a9a9a" stroke-width="0.55"/>
<circle cx="467.1" cy="132.4" r="1.5" fill="#d4d4d4" stroke="#9a9a9a" stroke-width="0.55"/>
<circle cx="438.5" cy="131.7" r="1.5" fill="#d4d4d4" stroke="#9a9a9a" stroke-width="0.55"/>
<circle cx="444.2" cy="117.0" r="1.5" fill="#d4d4d4" stroke="#9a9a9a" stroke-width="0.55"/>
<circle cx="376.0" cy="157.1" r="1.5" fill="#d4d4d4" stroke="#9a9a9a" stroke-width="0.55"/>
<circle cx="439.8" cy="104.1" r="1.5" fill="#d4d4d4" stroke="#9a9a9a" stroke-width="0.55"/>
<circle cx="439.0" cy="138.0" r="1.5" fill="#d4d4d4" stroke="#9a9a9a" stroke-width="0.55"/>
<circle cx="380.6" cy="102.1" r="1.5" fill="#d4d4d4" stroke="#9a9a9a" stroke-width="0.55"/>
<circle cx="443.7" cy="148.0" r="1.5" fill="#d4d4d4" stroke="#9a9a9a" stroke-width="0.55"/>
<circle cx="479.5" cy="117.9" r="1.5" fill="#d4d4d4" stroke="#9a9a9a" stroke-width="0.55"/>
<circle cx="439.9" cy="111.8" r="1.5" fill="#d4d4d4" stroke="#9a9a9a" stroke-width="0.55"/>
<circle cx="433.8" cy="149.1" r="1.5" fill="#d4d4d4" stroke="#9a9a9a" stroke-width="0.55"/>
<circle cx="377.1" cy="152.5" r="1.5" fill="#d4d4d4" stroke="#9a9a9a" stroke-width="0.55"/>
<circle cx="437.7" cy="130.6" r="1.5" fill="#d4d4d4" stroke="#9a9a9a" stroke-width="0.55"/>
<circle cx="442.6" cy="129.6" r="1.5" fill="#d4d4d4" stroke="#9a9a9a" stroke-width="0.55"/>
<circle cx="437.7" cy="136.5" r="1.5" fill="#d4d4d4" stroke="#9a9a9a" stroke-width="0.55"/>
<circle cx="467.7" cy="159.7" r="1.5" fill="#d4d4d4" stroke="#9a9a9a" stroke-width="0.55"/>
<circle cx="474.4" cy="148.8" r="1.5" fill="#d4d4d4" stroke="#9a9a9a" stroke-width="0.55"/>
<circle cx="440.6" cy="131.0" r="1.5" fill="#d4d4d4" stroke="#9a9a9a" stroke-width="0.55"/>
<circle cx="473.4" cy="125.7" r="1.5" fill="#d4d4d4" stroke="#9a9a9a" stroke-width="0.55"/>
<circle cx="438.3" cy="137.5" r="1.5" fill="#d4d4d4" stroke="#9a9a9a" stroke-width="0.55"/>
<circle cx="377.5" cy="117.6" r="1.5" fill="#d4d4d4" stroke="#9a9a9a" stroke-width="0.55"/>
<circle cx="379.0" cy="74.1" r="1.5" fill="#d4d4d4" stroke="#9a9a9a" stroke-width="0.55"/>
<circle cx="472.0" cy="122.1" r="1.5" fill="#d4d4d4" stroke="#9a9a9a" stroke-width="0.55"/>
<circle cx="377.1" cy="100.2" r="1.5" fill="#d4d4d4" stroke="#9a9a9a" stroke-width="0.55"/>
<circle cx="439.9" cy="125.5" r="1.5" fill="#d4d4d4" stroke="#9a9a9a" stroke-width="0.55"/>
<circle cx="448.7" cy="125.1" r="1.5" fill="#d4d4d4" stroke="#9a9a9a" stroke-width="0.55"/>
<circle cx="477.5" cy="137.1" r="1.5" fill="#d4d4d4" stroke="#9a9a9a" stroke-width="0.55"/>
<circle cx="482.8" cy="141.7" r="1.5" fill="#d4d4d4" stroke="#9a9a9a" stroke-width="0.55"/>
<circle cx="432.7" cy="162.8" r="1.5" fill="#d4d4d4" stroke="#9a9a9a" stroke-width="0.55"/>
<circle cx="438.0" cy="127.6" r="1.5" fill="#d4d4d4" stroke="#9a9a9a" stroke-width="0.55"/>
<circle cx="435.1" cy="190.2" r="1.5" fill="#d4d4d4" stroke="#9a9a9a" stroke-width="0.55"/>
<circle cx="465.9" cy="157.1" r="1.5" fill="#d4d4d4" stroke="#9a9a9a" stroke-width="0.55"/>
<circle cx="468.2" cy="143.3" r="1.5" fill="#d4d4d4" stroke="#9a9a9a" stroke-width="0.55"/>
<circle cx="437.0" cy="119.1" r="1.5" fill="#d4d4d4" stroke="#9a9a9a" stroke-width="0.55"/>
<circle cx="471.2" cy="114.0" r="1.5" fill="#d4d4d4" stroke="#9a9a9a" stroke-width="0.55"/>
<circle cx="468.4" cy="157.9" r="1.5" fill="#d4d4d4" stroke="#9a9a9a" stroke-width="0.55"/>
<circle cx="440.1" cy="126.7" r="1.5" fill="#d4d4d4" stroke="#9a9a9a" stroke-width="0.55"/>
<circle cx="437.3" cy="162.8" r="1.5" fill="#d4d4d4" stroke="#9a9a9a" stroke-width="0.55"/>
<circle cx="461.1" cy="169.1" r="1.5" fill="#d4d4d4" stroke="#9a9a9a" stroke-width="0.55"/>
<circle cx="376.1" cy="112.8" r="1.5" fill="#d4d4d4" stroke="#9a9a9a" stroke-width="0.55"/>
<circle cx="474.6" cy="141.8" r="1.5" fill="#d4d4d4" stroke="#9a9a9a" stroke-width="0.55"/>
<circle cx="467.0" cy="137.4" r="1.5" fill="#d4d4d4" stroke="#9a9a9a" stroke-width="0.55"/>
<circle cx="444.0" cy="141.5" r="1.5" fill="#d4d4d4" stroke="#9a9a9a" stroke-width="0.55"/>
<circle cx="466.2" cy="132.1" r="1.5" fill="#d4d4d4" stroke="#9a9a9a" stroke-width="0.55"/>
<circle cx="437.5" cy="162.8" r="1.5" fill="#d4d4d4" stroke="#9a9a9a" stroke-width="0.55"/>
<circle cx="433.5" cy="148.4" r="1.5" fill="#d4d4d4" stroke="#9a9a9a" stroke-width="0.55"/>
<circle cx="427.9" cy="148.3" r="1.5" fill="#d4d4d4" stroke="#9a9a9a" stroke-width="0.55"/>
<circle cx="445.6" cy="126.8" r="1.5" fill="#d4d4d4" stroke="#9a9a9a" stroke-width="0.55"/>
<circle cx="414.9" cy="131.7" r="1.5" fill="#d4d4d4" stroke="#9a9a9a" stroke-width="0.55"/>
<circle cx="474.0" cy="131.3" r="1.5" fill="#d4d4d4" stroke="#9a9a9a" stroke-width="0.55"/>
<circle cx="439.0" cy="190.2" r="1.5" fill="#d4d4d4" stroke="#9a9a9a" stroke-width="0.55"/>
<circle cx="445.0" cy="118.4" r="1.5" fill="#d4d4d4" stroke="#9a9a9a" stroke-width="0.55"/>
<circle cx="377.3" cy="111.9" r="1.5" fill="#d4d4d4" stroke="#9a9a9a" stroke-width="0.55"/>
<circle cx="464.2" cy="159.0" r="1.5" fill="#d4d4d4" stroke="#9a9a9a" stroke-width="0.55"/>
<circle cx="379.0" cy="125.2" r="1.5" fill="#d4d4d4" stroke="#9a9a9a" stroke-width="0.55"/>
<circle cx="464.2" cy="166.1" r="1.5" fill="#d4d4d4" stroke="#9a9a9a" stroke-width="0.55"/>
<circle cx="478.5" cy="137.4" r="1.5" fill="#d4d4d4" stroke="#9a9a9a" stroke-width="0.55"/>
<circle cx="468.4" cy="130.1" r="1.5" fill="#d4d4d4" stroke="#9a9a9a" stroke-width="0.55"/>
<circle cx="475.5" cy="143.8" r="1.5" fill="#d4d4d4" stroke="#9a9a9a" stroke-width="0.55"/>
<circle cx="474.7" cy="143.9" r="1.5" fill="#d4d4d4" stroke="#9a9a9a" stroke-width="0.55"/>
<circle cx="478.9" cy="127.5" r="1.5" fill="#d4d4d4" stroke="#9a9a9a" stroke-width="0.55"/>
<circle cx="429.1" cy="162.8" r="1.5" fill="#d4d4d4" stroke="#9a9a9a" stroke-width="0.55"/>
<circle cx="427.9" cy="83.2" r="1.5" fill="#d4d4d4" stroke="#9a9a9a" stroke-width="0.55"/>
<circle cx="443.3" cy="142.8" r="1.5" fill="#d4d4d4" stroke="#9a9a9a" stroke-width="0.55"/>
<circle cx="465.5" cy="166.1" r="1.5" fill="#d4d4d4" stroke="#9a9a9a" stroke-width="0.55"/>
<circle cx="478.8" cy="131.1" r="1.5" fill="#d4d4d4" stroke="#9a9a9a" stroke-width="0.55"/>
<text x="11" y="251.5" font-size="21" text-anchor="start" fill="#000">c</text>
<text x="122.5" y="282.5" font-size="11" font-weight="bold" text-anchor="middle" fill="#000" textLength="111" lengthAdjust="spacingAndGlyphs">Healthy donors blood</text>
<path d="M122.00 352.90L122.00 296.90A56 56 0 0 1 161.33 313.04Z" fill="#fca5a2" stroke="#505050" stroke-width="0.5"/>
<path d="M122.00 352.90L161.33 313.04A56 56 0 0 1 92.07 400.23Z" fill="#df8cf5" stroke="#505050" stroke-width="0.5"/>
<path d="M116.62 351.34L86.69 398.67A56 56 0 0 1 116.62 295.34Z" fill="#90bdf8" stroke="#505050" stroke-width="0.5"/>
<text x="139.5" y="319.3" font-size="14" text-anchor="middle" fill="#000">12%</text>
<text x="88.6" y="354.8" font-size="16.3" text-anchor="middle" fill="#000">41%</text>
<text x="129.5" y="435.7" font-size="9.3" font-weight="bold" text-anchor="middle" fill="#000">Total=234</text>
<rect x="201.3" y="299.7" width="12.5" height="6" fill="#fca5a2" stroke="#777" stroke-width="0.5"/>
<text x="220.3" y="305.9" font-size="9.3" font-weight="bold" text-anchor="start" fill="#000">29 CC</text>
<rect x="201.3" y="310.3" width="12.5" height="6" fill="#df8cf5" stroke="#777" stroke-width="0.5"/>
<text x="220.3" y="316.5" font-size="9.3" font-weight="bold" text-anchor="start" fill="#000">109 GC</text>
<rect x="201.3" y="320.9" width="12.5" height="6" fill="#90bdf8" stroke="#777" stroke-width="0.5"/>
<text x="220.3" y="327.09999999999997" font-size="9.3" font-weight="bold" text-anchor="start" fill="#000">96 GG</text>
<text x="40.3" y="416.2" font-size="12.9" font-weight="bold" text-anchor="middle" fill="#9448b8">AHSB+FIVO+</text>
<text x="35.5" y="427.8" font-size="12.7" font-weight="bold" text-anchor="middle" fill="#9448b8">CBM</text>
<text x="41" y="439" font-size="12.7" font-weight="bold" text-anchor="middle" fill="#9448b8">cohorts</text>
<text x="320.2" y="284" font-size="11.3" font-weight="bold" text-anchor="middle" fill="#000" textLength="79.2" lengthAdjust="spacingAndGlyphs">Breast tumors</text>
<path d="M320.20 354.80L320.20 298.80A56 56 0 0 1 373.35 337.15Z" fill="#fca5a2" stroke="#505050" stroke-width="0.5"/>
<path d="M320.20 354.80L373.35 337.15A56 56 0 1 1 264.46 360.18Z" fill="#df8cf5" stroke="#505050" stroke-width="0.5"/>
<path d="M316.05 351.04L260.31 356.41A56 56 0 0 1 316.05 295.04Z" fill="#90bdf8" stroke="#505050" stroke-width="0.5"/>
<text x="339.8" y="329.5" font-size="14.5" text-anchor="middle" fill="#000">20%</text>
<text x="290.8" y="339.3" font-size="16.5" text-anchor="middle" fill="#000">26%</text>
<text x="328.2" y="437" font-size="9.2" font-weight="bold" text-anchor="middle" fill="#000">Total=196</text>
<rect x="399.4" y="302.5" width="12.5" height="6" fill="#fca5a2" stroke="#777" stroke-width="0.5"/>
<text x="418.4" y="308.7" font-size="9.3" font-weight="bold" text-anchor="start" fill="#000">39 CC</text>
<rect x="399.4" y="313.1" width="12.5" height="6" fill="#df8cf5" stroke="#777" stroke-width="0.5"/>
<text x="418.4" y="319.3" font-size="9.3" font-weight="bold" text-anchor="start" fill="#000">105 GC</text>
<rect x="399.4" y="323.7" width="12.5" height="6" fill="#90bdf8" stroke="#777" stroke-width="0.5"/>
<text x="418.4" y="329.9" font-size="9.3" font-weight="bold" text-anchor="start" fill="#000">52 GG</text>
<text x="518.8" y="284" font-size="11.5" font-weight="bold" text-anchor="middle" fill="#000" textLength="80.9" lengthAdjust="spacingAndGlyphs">Patients blood</text>
<path d="M518.80 355.20L518.80 299.20A56 56 0 0 1 566.08 325.19Z" fill="#fca5a2" stroke="#505050" stroke-width="0.5"/>
<path d="M518.80 355.20L566.08 325.19A56 56 0 0 1 479.20 394.80Z" fill="#df8cf5" stroke="#505050" stroke-width="0.5"/>
<path d="M513.63 353.06L474.03 392.65A56 56 0 0 1 513.63 297.06Z" fill="#90bdf8" stroke="#505050" stroke-width="0.5"/>
<text x="535.5" y="325.2" font-size="14.2" text-anchor="middle" fill="#000">16%</text>
<text x="483.8" y="349.3" font-size="15.5" text-anchor="middle" fill="#000">37%</text>
<text x="526.5" y="436.5" font-size="9.2" font-weight="bold" text-anchor="middle" fill="#000">Total=200</text>
<rect x="598" y="301.5" width="12.5" height="6" fill="#fca5a2" stroke="#777" stroke-width="0.5"/>
<text x="617" y="307.7" font-size="9.3" font-weight="bold" text-anchor="start" fill="#000">32 CC</text>
<rect x="598" y="312.1" width="12.5" height="6" fill="#df8cf5" stroke="#777" stroke-width="0.5"/>
<text x="617" y="318.3" font-size="9.3" font-weight="bold" text-anchor="start" fill="#000">93 GC</text>
<rect x="598" y="322.7" width="12.5" height="6" fill="#90bdf8" stroke="#777" stroke-width="0.5"/>
<text x="617" y="328.9" font-size="9.3" font-weight="bold" text-anchor="start" fill="#000">75 GG</text>
<text x="80" y="468" font-size="21" text-anchor="start" fill="#000">d</text>
<text x="210.4" y="473.2" font-size="13.85" font-weight="bold" text-anchor="middle" fill="#000" textLength="146.7" lengthAdjust="spacingAndGlyphs">SNP allele distribution</text>
<line x1="155.1" y1="625.0" x2="155.1" y2="513.4" stroke="#8a8a8a" stroke-width="1.1"/>
<line x1="155.1" y1="625.0" x2="266.5" y2="625.0" stroke="#8a8a8a" stroke-width="1.1"/>
<line x1="151.1" y1="625.0" x2="155.1" y2="625.0" stroke="#8a8a8a" stroke-width="1"/>
<text x="148.6" y="628.8" font-size="10.5" font-weight="bold" text-anchor="end" fill="#000">0</text>
<line x1="152.6" y1="613.84" x2="155.1" y2="613.84" stroke="#8a8a8a" stroke-width="1"/>
<line x1="151.1" y1="602.68" x2="155.1" y2="602.68" stroke="#8a8a8a" stroke-width="1"/>
<text x="148.6" y="606.4799999999999" font-size="10.5" font-weight="bold" text-anchor="end" fill="#000">50</text>
<line x1="152.6" y1="591.52" x2="155.1" y2="591.52" stroke="#8a8a8a" stroke-width="1"/>
<line x1="151.1" y1="580.36" x2="155.1" y2="580.36" stroke="#8a8a8a" stroke-width="1"/>
<text x="148.6" y="584.16" font-size="10.5" font-weight="bold" text-anchor="end" fill="#000">100</text>
<line x1="152.6" y1="569.2" x2="155.1" y2="569.2" stroke="#8a8a8a" stroke-width="1"/>
<line x1="151.1" y1="558.04" x2="155.1" y2="558.04" stroke="#8a8a8a" stroke-width="1"/>
<text x="148.6" y="561.8399999999999" font-size="10.5" font-weight="bold" text-anchor="end" fill="#000">150</text>
<line x1="152.6" y1="546.88" x2="155.1" y2="546.88" stroke="#8a8a8a" stroke-width="1"/>
<line x1="151.1" y1="535.72" x2="155.1" y2="535.72" stroke="#8a8a8a" stroke-width="1"/>
<text x="148.6" y="539.52" font-size="10.5" font-weight="bold" text-anchor="end" fill="#000">200</text>
<line x1="152.6" y1="524.56" x2="155.1" y2="524.56" stroke="#8a8a8a" stroke-width="1"/>
<line x1="151.1" y1="513.4" x2="155.1" y2="513.4" stroke="#8a8a8a" stroke-width="1"/>
<text x="148.6" y="517.1999999999999" font-size="10.5" font-weight="bold" text-anchor="end" fill="#000">250</text>
<text x="118" y="567.5" font-size="11.8" font-weight="bold" text-anchor="middle" fill="#000" transform="rotate(-90 118 567.5)">number of samples</text>
<rect x="166.5" y="612.05" width="22" height="12.95" fill="#f77d7a" stroke="#c44b4b" stroke-width="0.8"/>
<rect x="166.5" y="563.40" width="22" height="48.66" fill="#d986f3" stroke="#8f43a8" stroke-width="0.8"/>
<rect x="166.5" y="520.54" width="22" height="42.85" fill="#4f95f4" stroke="#2d5bbf" stroke-width="0.8"/>
<line x1="177.5" y1="625.0" x2="177.5" y2="628.5" stroke="#8a8a8a" stroke-width="1"/>
<rect x="200" y="610.72" width="22" height="14.28" fill="#f77d7a" stroke="#c44b4b" stroke-width="0.8"/>
<rect x="200" y="569.20" width="22" height="41.52" fill="#d986f3" stroke="#8f43a8" stroke-width="0.8"/>
<rect x="200" y="535.72" width="22" height="33.48" fill="#4f95f4" stroke="#2d5bbf" stroke-width="0.8"/>
<line x1="211" y1="625.0" x2="211" y2="628.5" stroke="#8a8a8a" stroke-width="1"/>
<rect x="233.2" y="607.59" width="22" height="17.41" fill="#f77d7a" stroke="#c44b4b" stroke-width="0.8"/>
<rect x="233.2" y="560.72" width="22" height="46.87" fill="#d986f3" stroke="#8f43a8" stroke-width="0.8"/>
<rect x="233.2" y="537.51" width="22" height="23.21" fill="#4f95f4" stroke="#2d5bbf" stroke-width="0.8"/>
<line x1="244.2" y1="625.0" x2="244.2" y2="628.5" stroke="#8a8a8a" stroke-width="1"/>
<line x1="176.5" y1="514.5" x2="243.3" y2="514.5" stroke="#222" stroke-width="1"/>
<text x="213" y="512.2" font-size="11" text-anchor="middle"><tspan font-style="italic">p</tspan>=0.003</text>
<text x="246.6" y="512.9" font-size="9.4" font-style="italic" text-anchor="start" fill="#222">Odds ratio: 0.40</text>
<text x="246.6" y="524.4" font-size="9.8" font-style="italic" text-anchor="start" fill="#222">(0.22-0.71)</text>
<rect x="276.6" y="557" width="11.8" height="10" fill="#4f95f4" stroke="#2d5bbf" stroke-width="0.8"/>
<text x="295.6" y="566.3" font-size="11.6" font-weight="bold" text-anchor="start" fill="#000">GG</text>
<rect x="276.6" y="573.4" width="11.8" height="10" fill="#d986f3" stroke="#8f43a8" stroke-width="0.8"/>
<text x="295.6" y="582.6999999999999" font-size="11.6" font-weight="bold" text-anchor="start" fill="#000">GC</text>
<rect x="276.6" y="589.2" width="11.8" height="10" fill="#f77d7a" stroke="#c44b4b" stroke-width="0.8"/>
<text x="295.6" y="598.5" font-size="13" font-weight="bold" text-anchor="start" fill="#000">CC</text>
<text x="183.5" y="642" font-size="10.8" font-weight="bold" text-anchor="end" fill="#000" transform="rotate(-45 183.5 642)">healthy donors (blood)</text>
<text x="215" y="642" font-size="10.8" font-weight="bold" text-anchor="end" fill="#000" transform="rotate(-45 215 642)">patients (blood)</text>
<text x="248" y="641.5" font-size="10.8" font-weight="bold" text-anchor="end" fill="#000" transform="rotate(-45 248 641.5)">patients tumor</text>
<text x="362.5" y="481" font-size="21" text-anchor="start" fill="#000">e</text>
<text x="519.5" y="485" font-size="16.4" font-weight="bold" text-anchor="middle" fill="#000" textLength="206" lengthAdjust="spacingAndGlyphs">SNP vs RRAS2 expression</text>
<line x1="453.8" y1="635.8" x2="453.8" y2="505" stroke="#8a8a8a" stroke-width="1.1"/>
<line x1="453.8" y1="635.8" x2="585" y2="635.8" stroke="#8a8a8a" stroke-width="1.6"/>
<line x1="449.8" y1="635.8" x2="453.8" y2="635.8" stroke="#8a8a8a" stroke-width="1"/>
<text x="447.8" y="640.0" font-size="12" font-weight="bold" text-anchor="end" fill="#000">0</text>
<line x1="449.8" y1="603.0999999999999" x2="453.8" y2="603.0999999999999" stroke="#8a8a8a" stroke-width="1"/>
<text x="447.8" y="607.3" font-size="12" font-weight="bold" text-anchor="end" fill="#000">10</text>
<line x1="449.8" y1="570.4" x2="453.8" y2="570.4" stroke="#8a8a8a" stroke-width="1"/>
<text x="447.8" y="574.6" font-size="12" font-weight="bold" text-anchor="end" fill="#000">20</text>
<line x1="449.8" y1="537.6999999999999" x2="453.8" y2="537.6999999999999" stroke="#8a8a8a" stroke-width="1"/>
<text x="447.8" y="541.9" font-size="12" font-weight="bold" text-anchor="end" fill="#000">30</text>
<line x1="449.8" y1="504.99999999999994" x2="453.8" y2="504.99999999999994" stroke="#8a8a8a" stroke-width="1"/>
<text x="447.8" y="509.19999999999993" font-size="12" font-weight="bold" text-anchor="end" fill="#000">40</text>
<line x1="480.6" y1="635.8" x2="480.6" y2="640.3" stroke="#8a8a8a" stroke-width="1"/>
<line x1="519.9" y1="635.8" x2="519.9" y2="640.3" stroke="#8a8a8a" stroke-width="1"/>
<line x1="558.9" y1="635.8" x2="558.9" y2="640.3" stroke="#8a8a8a" stroke-width="1"/>
<text x="398.4" y="569" font-size="12.3" font-weight="bold" text-anchor="middle" fill="#000" transform="rotate(-90 398.4 569)" font-style="italic">RRAS2 mRNA</text>
<text x="412.2" y="569" font-size="12.8" font-weight="bold" text-anchor="middle" fill="#000" transform="rotate(-90 412.2 569)" font-style="italic">(Relative Expression)</text>
<line x1="481" y1="512.6" x2="555.2" y2="512.6" stroke="#222" stroke-width="1.1"/>
<text x="520" y="508.1" font-size="12" text-anchor="middle"><tspan font-style="italic">p</tspan>=0.02</text>
<text x="605.5" y="507.8" font-size="12.8" font-weight="bold" text-anchor="middle" fill="#9448b8">AHSB+FIVO</text>
<text x="605.5" y="519.3" font-size="12.8" font-weight="bold" text-anchor="middle" fill="#9448b8">cohorts</text>
<rect x="560.6" y="531.2" width="92" height="38" fill="none" stroke="#4caf50" stroke-width="1.3"/>
<text x="608.3" y="545.5" font-size="12.5" text-anchor="middle" fill="#000">Breast cancer</text>
<text x="608.3" y="560.6" font-size="12.3" text-anchor="middle" fill="#000">samples</text>
<text x="480.6" y="654" font-size="12.2" font-weight="bold" text-anchor="middle" fill="#000">CC</text>
<text x="519.9" y="654" font-size="12.2" font-weight="bold" text-anchor="middle" fill="#000">GC</text>
<text x="559.1" y="654" font-size="12.2" font-weight="bold" text-anchor="middle" fill="#000">GG</text>
<text x="519.9" y="673.7" font-size="13.8" font-weight="bold" text-anchor="middle" fill="#000">Genotype</text>
<circle cx="480.4" cy="525.4" r="2.25" fill="#f27d79" stroke="none" stroke-width="0.6"/>
<circle cx="480.4" cy="557.0" r="2.25" fill="#f27d79" stroke="none" stroke-width="0.6"/>
<circle cx="480.4" cy="563.8" r="2.25" fill="#f27d79" stroke="none" stroke-width="0.6"/>
<circle cx="480.4" cy="575.7" r="2.25" fill="#f27d79" stroke="none" stroke-width="0.6"/>
<circle cx="480.4" cy="617.1" r="2.25" fill="#f27d79" stroke="none" stroke-width="0.6"/>
<circle cx="470.2" cy="626.6" r="2.25" fill="#f27d79" stroke="none" stroke-width="0.6"/>
<circle cx="478.3" cy="627.3" r="2.25" fill="#f27d79" stroke="none" stroke-width="0.6"/>
<circle cx="491.0" cy="626.1" r="2.25" fill="#f27d79" stroke="none" stroke-width="0.6"/>
<circle cx="474.4" cy="631.2" r="2.25" fill="#f27d79" stroke="none" stroke-width="0.6"/>
<circle cx="482.6" cy="632.0" r="2.25" fill="#f27d79" stroke="none" stroke-width="0.6"/>
<circle cx="470.2" cy="636.0" r="2.25" fill="#f27d79" stroke="none" stroke-width="0.6"/>
<circle cx="478.3" cy="635.4" r="2.25" fill="#f27d79" stroke="none" stroke-width="0.6"/>
<circle cx="486.7" cy="636.0" r="2.25" fill="#f27d79" stroke="none" stroke-width="0.6"/>
<circle cx="491.0" cy="633.8" r="2.25" fill="#f27d79" stroke="none" stroke-width="0.6"/>
<rect x="467.6" y="609.1" width="25.8" height="26.699999999999932" fill="none" stroke="#a8302c" stroke-width="1.3"/>
<line x1="480.4" y1="599" x2="480.4" y2="618.5" stroke="#a8302c" stroke-width="1.3"/>
<line x1="474.4" y1="599" x2="486.7" y2="599" stroke="#a8302c" stroke-width="1.3"/>
<line x1="474.4" y1="618.5" x2="486.7" y2="618.5" stroke="#a8302c" stroke-width="1.3"/>
<rect x="518.4" y="541.5" width="2.7" height="2.7" fill="#b455d6" stroke="none" stroke-width="1"/>
<rect x="518.4" y="549.2" width="2.7" height="2.7" fill="#b455d6" stroke="none" stroke-width="1"/>
<rect x="518.4" y="563.4" width="2.7" height="2.7" fill="#b455d6" stroke="none" stroke-width="1"/>
<rect x="518.4" y="578.9" width="2.7" height="2.7" fill="#b455d6" stroke="none" stroke-width="1"/>
<rect x="518.4" y="583.5" width="2.7" height="2.7" fill="#b455d6" stroke="none" stroke-width="1"/>
<rect x="518.4" y="595.9" width="2.7" height="2.7" fill="#b455d6" stroke="none" stroke-width="1"/>
<rect x="518.4" y="603.5" width="2.7" height="2.7" fill="#b455d6" stroke="none" stroke-width="1"/>
<rect x="518.4" y="608.6" width="2.7" height="2.7" fill="#b455d6" stroke="none" stroke-width="1"/>
<rect x="518.4" y="610.6" width="2.7" height="2.7" fill="#b455d6" stroke="none" stroke-width="1"/>
<rect x="518.4" y="612.6" width="2.7" height="2.7" fill="#b455d6" stroke="none" stroke-width="1"/>
<rect x="518.4" y="614.6" width="2.7" height="2.7" fill="#b455d6" stroke="none" stroke-width="1"/>
<rect x="517.1" y="610.1" width="2.7" height="2.7" fill="#b455d6" stroke="none" stroke-width="1"/>
<rect x="519.6" y="612.1" width="2.7" height="2.7" fill="#b455d6" stroke="none" stroke-width="1"/>
<rect x="517.6" y="615.6" width="2.7" height="2.7" fill="#b455d6" stroke="none" stroke-width="1"/>
<rect x="519.1" y="617.6" width="2.7" height="2.7" fill="#b455d6" stroke="none" stroke-width="1"/>
<rect x="525.2" y="628.2" width="2.7" height="2.7" fill="#b455d6" stroke="none" stroke-width="1"/>
<rect x="528.6" y="628.3" width="2.7" height="2.7" fill="#b455d6" stroke="none" stroke-width="1"/>
<rect x="507.6" y="633.9" width="2.7" height="2.7" fill="#b455d6" stroke="none" stroke-width="1"/>
<rect x="518.0" y="622.2" width="2.7" height="2.7" fill="#b455d6" stroke="none" stroke-width="1"/>
<rect x="527.7" y="627.2" width="2.7" height="2.7" fill="#b455d6" stroke="none" stroke-width="1"/>
<rect x="509.6" y="631.9" width="2.7" height="2.7" fill="#b455d6" stroke="none" stroke-width="1"/>
<rect x="519.5" y="630.6" width="2.7" height="2.7" fill="#b455d6" stroke="none" stroke-width="1"/>
<rect x="520.2" y="633.9" width="2.7" height="2.7" fill="#b455d6" stroke="none" stroke-width="1"/>
<rect x="513.4" y="630.8" width="2.7" height="2.7" fill="#b455d6" stroke="none" stroke-width="1"/>
<rect x="528.0" y="634.3" width="2.7" height="2.7" fill="#b455d6" stroke="none" stroke-width="1"/>
<rect x="525.3" y="634.3" width="2.7" height="2.7" fill="#b455d6" stroke="none" stroke-width="1"/>
<rect x="510.1" y="631.4" width="2.7" height="2.7" fill="#b455d6" stroke="none" stroke-width="1"/>
<rect x="507.0" y="632.5" width="2.7" height="2.7" fill="#b455d6" stroke="none" stroke-width="1"/>
<rect x="527.0" y="632.7" width="2.7" height="2.7" fill="#b455d6" stroke="none" stroke-width="1"/>
<rect x="529.5" y="633.7" width="2.7" height="2.7" fill="#b455d6" stroke="none" stroke-width="1"/>
<rect x="527.0" y="630.9" width="2.7" height="2.7" fill="#b455d6" stroke="none" stroke-width="1"/>
<rect x="519.4" y="631.2" width="2.7" height="2.7" fill="#b455d6" stroke="none" stroke-width="1"/>
<rect x="520.6" y="621.0" width="2.7" height="2.7" fill="#b455d6" stroke="none" stroke-width="1"/>
<rect x="522.8" y="631.0" width="2.7" height="2.7" fill="#b455d6" stroke="none" stroke-width="1"/>
<rect x="524.0" y="622.1" width="2.7" height="2.7" fill="#b455d6" stroke="none" stroke-width="1"/>
<rect x="515.3" y="631.0" width="2.7" height="2.7" fill="#b455d6" stroke="none" stroke-width="1"/>
<rect x="510.8" y="631.8" width="2.7" height="2.7" fill="#b455d6" stroke="none" stroke-width="1"/>
<rect x="513.9" y="633.4" width="2.7" height="2.7" fill="#b455d6" stroke="none" stroke-width="1"/>
<rect x="520.8" y="633.0" width="2.7" height="2.7" fill="#b455d6" stroke="none" stroke-width="1"/>
<rect x="514.7" y="626.4" width="2.7" height="2.7" fill="#b455d6" stroke="none" stroke-width="1"/>
<rect x="514.1" y="634.5" width="2.7" height="2.7" fill="#b455d6" stroke="none" stroke-width="1"/>
<rect x="514.2" y="632.0" width="2.7" height="2.7" fill="#b455d6" stroke="none" stroke-width="1"/>
<rect x="518.0" y="628.9" width="2.7" height="2.7" fill="#b455d6" stroke="none" stroke-width="1"/>
<rect x="529.4" y="634.1" width="2.7" height="2.7" fill="#b455d6" stroke="none" stroke-width="1"/>
<rect x="507.5" y="632.8" width="2.7" height="2.7" fill="#b455d6" stroke="none" stroke-width="1"/>
<rect x="507.4" y="634.6" width="2.7" height="2.7" fill="#b455d6" stroke="none" stroke-width="1"/>
<rect x="525.1" y="624.0" width="2.7" height="2.7" fill="#b455d6" stroke="none" stroke-width="1"/>
<rect x="507.2" y="629.8" width="2.7" height="2.7" fill="#b455d6" stroke="none" stroke-width="1"/>
<rect x="508.0" y="629.3" width="2.7" height="2.7" fill="#b455d6" stroke="none" stroke-width="1"/>
<rect x="511.5" y="628.9" width="2.7" height="2.7" fill="#b455d6" stroke="none" stroke-width="1"/>
<rect x="521.5" y="622.2" width="2.7" height="2.7" fill="#b455d6" stroke="none" stroke-width="1"/>
<rect x="514.9" y="622.8" width="2.7" height="2.7" fill="#b455d6" stroke="none" stroke-width="1"/>
<rect x="515.1" y="629.0" width="2.7" height="2.7" fill="#b455d6" stroke="none" stroke-width="1"/>
<rect x="509.4" y="625.3" width="2.7" height="2.7" fill="#b455d6" stroke="none" stroke-width="1"/>
<rect x="524.2" y="633.2" width="2.7" height="2.7" fill="#b455d6" stroke="none" stroke-width="1"/>
<rect x="507.8" y="631.5" width="2.7" height="2.7" fill="#b455d6" stroke="none" stroke-width="1"/>
<rect x="528.7" y="624.2" width="2.7" height="2.7" fill="#b455d6" stroke="none" stroke-width="1"/>
<rect x="521.0" y="630.4" width="2.7" height="2.7" fill="#b455d6" stroke="none" stroke-width="1"/>
<rect x="528.1" y="631.9" width="2.7" height="2.7" fill="#b455d6" stroke="none" stroke-width="1"/>
<rect x="519.5" y="628.0" width="2.7" height="2.7" fill="#b455d6" stroke="none" stroke-width="1"/>
<rect x="514.1" y="624.1" width="2.7" height="2.7" fill="#b455d6" stroke="none" stroke-width="1"/>
<rect x="508.7" y="633.2" width="2.7" height="2.7" fill="#b455d6" stroke="none" stroke-width="1"/>
<rect x="510.4" y="631.5" width="2.7" height="2.7" fill="#b455d6" stroke="none" stroke-width="1"/>
<rect x="510.7" y="627.7" width="2.7" height="2.7" fill="#b455d6" stroke="none" stroke-width="1"/>
<rect x="513.0" y="617.4" width="2.7" height="2.7" fill="#b455d6" stroke="none" stroke-width="1"/>
<rect x="507.2" y="622.7" width="25.5" height="13.099999999999909" fill="none" stroke="#7a2ca6" stroke-width="1.3"/>
<line x1="519.8" y1="619.3" x2="519.8" y2="625.6" stroke="#7a2ca6" stroke-width="1.3"/>
<line x1="513.5" y1="619.3" x2="525.9" y2="619.3" stroke="#7a2ca6" stroke-width="1.3"/>
<line x1="513.5" y1="625.6" x2="525.9" y2="625.6" stroke="#7a2ca6" stroke-width="1.3"/>
<path d="M556.8 613.1L558.8 615.1L556.8 617.1L554.8 615.1Z" fill="#5aa6f0"/>
<path d="M561.0 615.6L563.0 617.6L561.0 619.6L559.0 617.6Z" fill="#5aa6f0"/>
<path d="M559.3 621.6L561.3 623.6L559.3 625.6L557.3 623.6Z" fill="#5aa6f0"/>
<path d="M558.5 624.1L560.5 626.1L558.5 628.1L556.5 626.1Z" fill="#5aa6f0"/>
<path d="M557.5 618.5L559.5 620.5L557.5 622.5L555.5 620.5Z" fill="#5aa6f0"/>
<path d="M558.0 632.9L560.0 634.9L558.0 636.9L556.0 634.9Z" fill="#5aa6f0"/>
<path d="M567.7 632.9L569.7 634.9L567.7 636.9L565.7 634.9Z" fill="#5aa6f0"/>
<path d="M547.1 628.0L549.1 630.0L547.1 632.0L545.1 630.0Z" fill="#5aa6f0"/>
<path d="M548.8 633.9L550.8 635.9L548.8 637.9L546.8 635.9Z" fill="#5aa6f0"/>
<path d="M560.2 633.4L562.2 635.4L560.2 637.4L558.2 635.4Z" fill="#5aa6f0"/>
<path d="M556.0 633.5L558.0 635.5L556.0 637.5L554.0 635.5Z" fill="#5aa6f0"/>
<path d="M563.8 629.7L565.8 631.7L563.8 633.7L561.8 631.7Z" fill="#5aa6f0"/>
<path d="M550.7 632.7L552.7 634.7L550.7 636.7L548.7 634.7Z" fill="#5aa6f0"/>
<path d="M552.6 631.4L554.6 633.4L552.6 635.4L550.6 633.4Z" fill="#5aa6f0"/>
<path d="M569.1 631.9L571.1 633.9L569.1 635.9L567.1 633.9Z" fill="#5aa6f0"/>
<path d="M561.1 633.6L563.1 635.6L561.1 637.6L559.1 635.6Z" fill="#5aa6f0"/>
<path d="M564.8 631.3L566.8 633.3L564.8 635.3L562.8 633.3Z" fill="#5aa6f0"/>
<path d="M549.3 632.9L551.3 634.9L549.3 636.9L547.3 634.9Z" fill="#5aa6f0"/>
<path d="M564.3 629.9L566.3 631.9L564.3 633.9L562.3 631.9Z" fill="#5aa6f0"/>
<path d="M557.0 632.1L559.0 634.1L557.0 636.1L555.0 634.1Z" fill="#5aa6f0"/>
<path d="M551.9 632.8L553.9 634.8L551.9 636.8L549.9 634.8Z" fill="#5aa6f0"/>
<path d="M553.6 633.3L555.6 635.3L553.6 637.3L551.6 635.3Z" fill="#5aa6f0"/>
<path d="M568.2 632.3L570.2 634.3L568.2 636.3L566.2 634.3Z" fill="#5aa6f0"/>
<path d="M568.0 631.4L570.0 633.4L568.0 635.4L566.0 633.4Z" fill="#5aa6f0"/>
<path d="M558.7 633.1L560.7 635.1L558.7 637.1L556.7 635.1Z" fill="#5aa6f0"/>
<path d="M547.5 628.6L549.5 630.6L547.5 632.6L545.5 630.6Z" fill="#5aa6f0"/>
<path d="M549.6 631.2L551.6 633.2L549.6 635.2L547.6 633.2Z" fill="#5aa6f0"/>
<path d="M561.2 631.3L563.2 633.3L561.2 635.3L559.2 633.3Z" fill="#5aa6f0"/>
<path d="M568.4 631.5L570.4 633.5L568.4 635.5L566.4 633.5Z" fill="#5aa6f0"/>
<path d="M551.8 632.8L553.8 634.8L551.8 636.8L549.8 634.8Z" fill="#5aa6f0"/>
<path d="M559.9 633.9L561.9 635.9L559.9 637.9L557.9 635.9Z" fill="#5aa6f0"/>
<path d="M547.3 631.2L549.3 633.2L547.3 635.2L545.3 633.2Z" fill="#5aa6f0"/>
<path d="M569.0 632.3L571.0 634.3L569.0 636.3L567.0 634.3Z" fill="#5aa6f0"/>
<rect x="546.2" y="630.0" width="25.5" height="5.7999999999999545" fill="none" stroke="#1f30c8" stroke-width="1.3"/>
<line x1="558.9" y1="627.8" x2="558.9" y2="631.2" stroke="#1f30c8" stroke-width="1.3"/>
<line x1="552.6" y1="627.8" x2="565.4" y2="627.8" stroke="#1f30c8" stroke-width="1.3"/>
<line x1="552.6" y1="631.2" x2="565.4" y2="631.2" stroke="#1f30c8" stroke-width="1.3"/>
<text x="44.5" y="744.5" font-size="21" text-anchor="start" fill="#000">f</text>
<text x="115.3" y="738.8" font-size="12.4" text-anchor="middle" fill="#000">luciferase</text>
<text x="244.7" y="736.3" font-size="11.5" text-anchor="middle" fill="#000">3'-UTR (<tspan font-style="italic">RRAS2</tspan>)</text>
<line x1="181.8" y1="738.6" x2="300.6" y2="738.6" stroke="#222" stroke-width="1"/>
<path d="M81 743.3H157V763.3H81" fill="none" stroke="#444" stroke-width="1"/>
<text x="119.5" y="755.5999999999999" font-size="9.2" text-anchor="middle" fill="#222">coding sequence</text>
<line x1="157.4" y1="752.0" x2="161" y2="752.0" stroke="#c02a3a" stroke-width="1.2"/>
<text x="171.8" y="755.3" font-size="10.3" text-anchor="middle" fill="#222">UAG</text>
<text x="171.5" y="762.3999999999999" font-size="7.8" font-weight="bold" text-anchor="middle" fill="#222">stop</text>
<line x1="182.7" y1="751.0" x2="210.7" y2="751.0" stroke="#222" stroke-width="1"/>
<text x="210.7" y="755.5999999999999" font-size="10.2" fill="#222">UAGAC<tspan fill="#1e9ad6" font-weight="bold">G</tspan>AAGAA</text>
<line x1="290" y1="751.0" x2="299" y2="751.0" stroke="#222" stroke-width="1"/>
<text x="250.8" y="763.5999999999999" font-size="8.5" text-anchor="middle" fill="#222">124</text>
<path d="M81 771.2H157V791.2H81" fill="none" stroke="#444" stroke-width="1"/>
<text x="119.5" y="783.5" font-size="9.2" text-anchor="middle" fill="#222">coding sequence</text>
<line x1="157.4" y1="779.9000000000001" x2="161" y2="779.9000000000001" stroke="#c02a3a" stroke-width="1.2"/>
<text x="171.8" y="783.2" font-size="10.3" text-anchor="middle" fill="#222">UAG</text>
<text x="171.5" y="790.3" font-size="7.8" font-weight="bold" text-anchor="middle" fill="#222">stop</text>
<line x1="182.7" y1="778.9000000000001" x2="210.7" y2="778.9000000000001" stroke="#222" stroke-width="1"/>
<text x="210.7" y="783.5" font-size="10.2" fill="#222">UAGAC<tspan fill="#c0302a" font-weight="bold">C</tspan>AAGAA</text>
<line x1="290" y1="778.9000000000001" x2="299" y2="778.9000000000001" stroke="#222" stroke-width="1"/>
<text x="250.8" y="791.5" font-size="8.5" text-anchor="middle" fill="#222">124</text>
<text x="11" y="828" font-size="21" text-anchor="start" fill="#000">g</text>
<text x="113" y="822.4" font-size="11.5" font-weight="bold" text-anchor="middle" fill="#000">luciferase activity</text>
<text x="112.6" y="836.2" font-size="10.5" text-anchor="middle"><tspan font-style="italic">p</tspan>=0.01</text>
<line x1="89.6" y1="842.8" x2="134.4" y2="842.8" stroke="#555" stroke-width="1.2"/>
<line x1="65.7" y1="939.5" x2="65.7" y2="845.8" stroke="#8a8a8a" stroke-width="1"/>
<line x1="65.7" y1="939.5" x2="159.9" y2="939.5" stroke="#8a8a8a" stroke-width="1"/>
<line x1="62.7" y1="939.5" x2="65.7" y2="939.5" stroke="#8a8a8a" stroke-width="1"/>
<text x="62.2" y="942.8" font-size="9.3" text-anchor="end" fill="#333">0.0</text>
<line x1="62.7" y1="916.075" x2="65.7" y2="916.075" stroke="#8a8a8a" stroke-width="1"/>
<text x="62.2" y="919.375" font-size="9.3" text-anchor="end" fill="#333">0.2</text>
<line x1="62.7" y1="892.65" x2="65.7" y2="892.65" stroke="#8a8a8a" stroke-width="1"/>
<text x="62.2" y="895.9499999999999" font-size="9.3" text-anchor="end" fill="#333">0.4</text>
<line x1="62.7" y1="869.2249999999999" x2="65.7" y2="869.2249999999999" stroke="#8a8a8a" stroke-width="1"/>
<text x="62.2" y="872.5249999999999" font-size="9.3" text-anchor="end" fill="#333">0.6</text>
<line x1="62.7" y1="845.8" x2="65.7" y2="845.8" stroke="#8a8a8a" stroke-width="1"/>
<text x="62.2" y="849.0999999999999" font-size="9.3" text-anchor="end" fill="#333">0.8</text>
<text x="45.5" y="891.5" font-size="10" font-weight="bold" text-anchor="middle" fill="#000" transform="rotate(-90 45.5 891.5)">relative activity</text>
<rect x="80.4" y="913.5" width="25.8" height="26.0" fill="#efefef" stroke="#4d95e4" stroke-width="1.7"/>
<rect x="120.4" y="861.6" width="26.3" height="77.89999999999998" fill="#efefef" stroke="#e8262a" stroke-width="1.7"/>
<line x1="133.5" y1="854.2" x2="133.5" y2="868.2" stroke="#e8262a" stroke-width="1.3"/>
<line x1="126.8" y1="854.2" x2="140" y2="854.2" stroke="#e8262a" stroke-width="1.3"/>
<line x1="126.8" y1="868.2" x2="140" y2="868.2" stroke="#e8262a" stroke-width="1.3"/>
<line x1="84" y1="912.5" x2="104" y2="912.5" stroke="#4d95e4" stroke-width="1.3"/>
<circle cx="82.0" cy="915.0" r="2.2" fill="#1414c8" stroke="none" stroke-width="0.6"/>
<circle cx="93.0" cy="911.0" r="2.2" fill="#1414c8" stroke="none" stroke-width="0.6"/>
<circle cx="103.9" cy="912.8" r="2.2" fill="#1414c8" stroke="none" stroke-width="0.6"/>
<rect x="130.9" y="851.0" width="4" height="4" fill="#8c0f0f" stroke="none" stroke-width="1"/>
<rect x="130.9" y="855.0" width="4" height="4" fill="#8c0f0f" stroke="none" stroke-width="1"/>
<rect x="130.9" y="872.6" width="4" height="4" fill="#8c0f0f" stroke="none" stroke-width="1"/>
<text x="93.3" y="950.8" font-size="10.3" font-weight="bold" text-anchor="middle" fill="#000">G</text>
<text x="133.3" y="950.8" font-size="10.3" font-weight="bold" text-anchor="middle" fill="#000">C</text>
<text x="114.6" y="965.5" font-size="10" font-weight="bold" text-anchor="middle" fill="#000">nucleotide at position 124</text>
<text x="119.7" y="990" font-size="15.6" text-anchor="middle" fill="#000">CAL-51 cells</text>
<text x="289.7" y="827.5" font-size="11.5" font-weight="bold" text-anchor="middle" fill="#000">mRNA expression</text>
<text x="290.1" y="843.3" font-size="10.5" text-anchor="middle"><tspan font-style="italic">p</tspan>=0.04</text>
<line x1="267.3" y1="849.6" x2="311.9" y2="849.6" stroke="#555" stroke-width="1.2"/>
<line x1="242.4" y1="935.7" x2="242.4" y2="842" stroke="#8a8a8a" stroke-width="1"/>
<line x1="242.4" y1="935.7" x2="336.5" y2="935.7" stroke="#8a8a8a" stroke-width="1"/>
<line x1="239.4" y1="935.7" x2="242.4" y2="935.7" stroke="#8a8a8a" stroke-width="1"/>
<text x="238.9" y="939.0" font-size="9.3" text-anchor="end" fill="#333">0</text>
<line x1="239.4" y1="904.4666666666667" x2="242.4" y2="904.4666666666667" stroke="#8a8a8a" stroke-width="1"/>
<text x="238.9" y="907.7666666666667" font-size="9.3" text-anchor="end" fill="#333">5</text>
<line x1="239.4" y1="873.2333333333333" x2="242.4" y2="873.2333333333333" stroke="#8a8a8a" stroke-width="1"/>
<text x="238.9" y="876.5333333333333" font-size="9.3" text-anchor="end" fill="#333">10</text>
<line x1="239.4" y1="842.0" x2="242.4" y2="842.0" stroke="#8a8a8a" stroke-width="1"/>
<text x="238.9" y="845.3" font-size="9.3" text-anchor="end" fill="#333">15</text>
<text x="211" y="890" font-size="9.8" font-weight="bold" text-anchor="middle" fill="#000" transform="rotate(-90 211 890)">luciferase mRNA</text>
<text x="224" y="890" font-size="9.8" font-weight="bold" text-anchor="middle" fill="#000" transform="rotate(-90 224 890)">(relative expression)</text>
<rect x="257.8" y="929.8" width="24.6" height="5.900000000000091" fill="#efefef" stroke="#4d95e4" stroke-width="1.7"/>
<rect x="296.8" y="892.4" width="25" height="43.30000000000007" fill="#efefef" stroke="#e8262a" stroke-width="1.7"/>
<line x1="309.8" y1="874.3" x2="309.8" y2="909" stroke="#e8262a" stroke-width="1.3"/>
<line x1="303.5" y1="874.3" x2="316.2" y2="874.3" stroke="#e8262a" stroke-width="1.3"/>
<line x1="303.5" y1="909" x2="316.2" y2="909" stroke="#e8262a" stroke-width="1.3"/>
<line x1="262" y1="927" x2="277" y2="927" stroke="#4d95e4" stroke-width="1.2"/>
<circle cx="264.8" cy="926.5" r="2.2" fill="#1414c8" stroke="none" stroke-width="0.6"/>
<circle cx="274.2" cy="927.3" r="2.2" fill="#1414c8" stroke="none" stroke-width="0.6"/>
<circle cx="269.6" cy="934.4" r="2.2" fill="#1414c8" stroke="none" stroke-width="0.6"/>
<rect x="307.8" y="856.0" width="4" height="4" fill="#8c0f0f" stroke="none" stroke-width="1"/>
<rect x="307.8" y="901.9" width="4" height="4" fill="#8c0f0f" stroke="none" stroke-width="1"/>
<rect x="307.8" y="911.5" width="4" height="4" fill="#8c0f0f" stroke="none" stroke-width="1"/>
<text x="270.2" y="947.7" font-size="9.3" font-weight="bold" text-anchor="middle" fill="#000">124G</text>
<text x="309.2" y="947.7" font-size="9.3" font-weight="bold" text-anchor="middle" fill="#000">124C</text>
<text x="289.5" y="961.7" font-size="9.8" font-weight="bold" text-anchor="middle" fill="#000">nucleotide at position 124</text>
<text x="285" y="989.7" font-size="15.6" text-anchor="middle" fill="#000">CAL-51 cells</text>
<text x="384" y="711.5" font-size="21" text-anchor="start" fill="#000">h</text>
<text x="525.4" y="718.7" font-size="13.05" text-anchor="middle" fill="#000">somatic mutations</text>
<text x="525.7" y="733.4" font-size="13.0" text-anchor="middle" fill="#000">at the SNP rs8570 position</text>
<text x="407.7" y="739" font-size="13" font-weight="bold" text-anchor="middle" fill="#9448b8">AHSB</text>
<text x="409.3" y="749.6" font-size="13" font-weight="bold" text-anchor="middle" fill="#9448b8">cohort</text>
<text x="471" y="755.5" font-size="13" font-style="italic" text-anchor="middle" fill="#111">n=107</text>
<rect x="505.3" y="743.6" width="104.3" height="24" fill="#fff" stroke="#222" stroke-width="1"/>
<text x="555.2" y="763.6" font-size="12.8" font-weight="bold" text-anchor="middle" fill="#000">SNP rs8570</text>
<rect x="417.4" y="767.3" width="192.2" height="29.1" fill="#3a77bd" stroke="none" stroke-width="1"/>
<line x1="505.6" y1="767.3" x2="505.6" y2="796.4" stroke="#1d3f70" stroke-width="0.8"/>
<line x1="565.3" y1="767.3" x2="565.3" y2="796.4" stroke="#1d3f70" stroke-width="0.8"/>
<text x="448.6" y="785.1" font-size="8.4" font-weight="bold" text-anchor="middle" fill="#fff">Sample code</text>
<text x="535.2" y="774.7" font-size="8.3" font-weight="bold" text-anchor="middle" fill="#e8e8f0">surrounding</text>
<text x="535.2" y="784.5" font-size="8.3" font-weight="bold" text-anchor="middle" fill="#e8e8f0">non-tumor</text>
<text x="535.2" y="794.4" font-size="8.3" font-weight="bold" text-anchor="middle" fill="#e8e8f0">tissue</text>
<text x="582.3" y="784.5" font-size="8.3" font-weight="bold" text-anchor="middle" fill="#e8e8f0">tumor</text>
<text x="423.4" y="805.30" font-size="8.3" text-anchor="start" fill="#111">ATM1500401TC01</text>
<text x="535" y="805.30" font-size="8.5" text-anchor="middle"><tspan fill="#3b7bc4">G</tspan><tspan fill="#3b7bc4">G</tspan></text>
<text x="587.6" y="805.30" font-size="8.5" text-anchor="middle"><tspan fill="#e3262a">C</tspan><tspan fill="#e3262a">C</tspan></text>
<line x1="417.4" y1="806.51" x2="609.6" y2="806.51" stroke="#222" stroke-width="0.8"/>
<text x="423.4" y="815.41" font-size="8.3" text-anchor="start" fill="#111">ATM1502001TC01</text>
<text x="535" y="815.41" font-size="8.5" text-anchor="middle"><tspan fill="#3b7bc4">G</tspan><tspan fill="#3b7bc4">G</tspan></text>
<text x="587.6" y="815.41" font-size="8.5" text-anchor="middle"><tspan fill="#3b7bc4">G</tspan><tspan fill="#e3262a">C</tspan></text>
<line x1="417.4" y1="816.61" x2="609.6" y2="816.61" stroke="#222" stroke-width="0.8"/>
<text x="423.4" y="825.51" font-size="8.3" text-anchor="start" fill="#111">ATM1503801TC01</text>
<text x="535" y="825.51" font-size="8.5" text-anchor="middle"><tspan fill="#3b7bc4">G</tspan><tspan fill="#3b7bc4">G</tspan></text>
<text x="587.6" y="825.51" font-size="8.5" text-anchor="middle"><tspan fill="#3b7bc4">G</tspan><tspan fill="#e3262a">C</tspan></text>
<line x1="417.4" y1="826.72" x2="609.6" y2="826.72" stroke="#222" stroke-width="0.8"/>
<text x="423.4" y="835.62" font-size="8.3" text-anchor="start" fill="#111">ATM1501201TC01</text>
<text x="535" y="835.62" font-size="8.5" text-anchor="middle"><tspan fill="#3b7bc4">G</tspan><tspan fill="#e3262a">C</tspan></text>
<text x="587.6" y="835.62" font-size="8.5" text-anchor="middle"><tspan fill="#e3262a">C</tspan><tspan fill="#e3262a">C</tspan></text>
<line x1="417.4" y1="836.82" x2="609.6" y2="836.82" stroke="#222" stroke-width="0.8"/>
<text x="423.4" y="845.72" font-size="8.3" text-anchor="start" fill="#111">ATM1502101TC01</text>
<text x="535" y="845.72" font-size="8.5" text-anchor="middle"><tspan fill="#3b7bc4">G</tspan><tspan fill="#e3262a">C</tspan></text>
<text x="587.6" y="845.72" font-size="8.5" text-anchor="middle"><tspan fill="#e3262a">C</tspan><tspan fill="#e3262a">C</tspan></text>
<line x1="417.4" y1="846.93" x2="609.6" y2="846.93" stroke="#222" stroke-width="0.8"/>
<text x="423.4" y="855.83" font-size="8.3" text-anchor="start" fill="#111">ATM1503701TC01</text>
<text x="535" y="855.83" font-size="8.5" text-anchor="middle"><tspan fill="#3b7bc4">G</tspan><tspan fill="#e3262a">C</tspan></text>
<text x="587.6" y="855.83" font-size="8.5" text-anchor="middle"><tspan fill="#e3262a">C</tspan><tspan fill="#e3262a">C</tspan></text>
<line x1="417.4" y1="857.04" x2="609.6" y2="857.04" stroke="#222" stroke-width="0.8"/>
<text x="423.4" y="865.94" font-size="8.3" text-anchor="start" fill="#111">ATM1504101TC01</text>
<text x="535" y="865.94" font-size="8.5" text-anchor="middle"><tspan fill="#3b7bc4">G</tspan><tspan fill="#e3262a">C</tspan></text>
<text x="587.6" y="865.94" font-size="8.5" text-anchor="middle"><tspan fill="#e3262a">C</tspan><tspan fill="#e3262a">C</tspan></text>
<line x1="417.4" y1="867.14" x2="609.6" y2="867.14" stroke="#222" stroke-width="0.8"/>
<text x="423.4" y="876.04" font-size="8.3" text-anchor="start" fill="#111">ATM1504501TC01</text>
<text x="535" y="876.04" font-size="8.5" text-anchor="middle"><tspan fill="#3b7bc4">G</tspan><tspan fill="#e3262a">C</tspan></text>
<text x="587.6" y="876.04" font-size="8.5" text-anchor="middle"><tspan fill="#e3262a">C</tspan><tspan fill="#e3262a">C</tspan></text>
<line x1="417.4" y1="877.25" x2="609.6" y2="877.25" stroke="#222" stroke-width="0.8"/>
<text x="423.4" y="886.15" font-size="8.3" text-anchor="start" fill="#111">ATM1504701TC01</text>
<text x="535" y="886.15" font-size="8.5" text-anchor="middle"><tspan fill="#3b7bc4">G</tspan><tspan fill="#e3262a">C</tspan></text>
<text x="587.6" y="886.15" font-size="8.5" text-anchor="middle"><tspan fill="#e3262a">C</tspan><tspan fill="#e3262a">C</tspan></text>
<line x1="417.4" y1="887.35" x2="609.6" y2="887.35" stroke="#222" stroke-width="0.8"/>
<text x="423.4" y="896.25" font-size="8.3" text-anchor="start" fill="#111">ATM1505401TC01</text>
<text x="535" y="896.25" font-size="8.5" text-anchor="middle"><tspan fill="#3b7bc4">G</tspan><tspan fill="#e3262a">C</tspan></text>
<text x="587.6" y="896.25" font-size="8.5" text-anchor="middle"><tspan fill="#e3262a">C</tspan><tspan fill="#e3262a">C</tspan></text>
<line x1="417.4" y1="897.46" x2="609.6" y2="897.46" stroke="#222" stroke-width="0.8"/>
<text x="423.4" y="906.36" font-size="8.3" text-anchor="start" fill="#111">ATM1505601TC01</text>
<text x="535" y="906.36" font-size="8.5" text-anchor="middle"><tspan fill="#3b7bc4">G</tspan><tspan fill="#e3262a">C</tspan></text>
<text x="587.6" y="906.36" font-size="8.5" text-anchor="middle"><tspan fill="#e3262a">C</tspan><tspan fill="#e3262a">C</tspan></text>
<line x1="417.4" y1="907.56" x2="609.6" y2="907.56" stroke="#222" stroke-width="0.8"/>
<text x="423.4" y="916.46" font-size="8.3" text-anchor="start" fill="#111">ATM1508201TC01</text>
<text x="535" y="916.46" font-size="8.5" text-anchor="middle"><tspan fill="#3b7bc4">G</tspan><tspan fill="#e3262a">C</tspan></text>
<text x="587.6" y="916.46" font-size="8.5" text-anchor="middle"><tspan fill="#e3262a">C</tspan><tspan fill="#e3262a">C</tspan></text>
<line x1="417.4" y1="917.67" x2="609.6" y2="917.67" stroke="#222" stroke-width="0.8"/>
<text x="423.4" y="926.57" font-size="8.3" text-anchor="start" fill="#111">ATM1508301TC01</text>
<text x="535" y="926.57" font-size="8.5" text-anchor="middle"><tspan fill="#3b7bc4">G</tspan><tspan fill="#e3262a">C</tspan></text>
<text x="587.6" y="926.57" font-size="8.5" text-anchor="middle"><tspan fill="#e3262a">C</tspan><tspan fill="#e3262a">C</tspan></text>
<line x1="417.4" y1="927.78" x2="609.6" y2="927.78" stroke="#222" stroke-width="0.8"/>
<text x="423.4" y="936.68" font-size="8.3" text-anchor="start" fill="#111">ATM1508501TC01</text>
<text x="535" y="936.68" font-size="8.5" text-anchor="middle"><tspan fill="#3b7bc4">G</tspan><tspan fill="#e3262a">C</tspan></text>
<text x="587.6" y="936.68" font-size="8.5" text-anchor="middle"><tspan fill="#e3262a">C</tspan><tspan fill="#e3262a">C</tspan></text>
<line x1="417.4" y1="937.88" x2="609.6" y2="937.88" stroke="#222" stroke-width="0.8"/>
<text x="423.4" y="946.78" font-size="8.3" text-anchor="start" fill="#111">ATM1508801TC01</text>
<text x="535" y="946.78" font-size="8.5" text-anchor="middle"><tspan fill="#3b7bc4">G</tspan><tspan fill="#e3262a">C</tspan></text>
<text x="587.6" y="946.78" font-size="8.5" text-anchor="middle"><tspan fill="#e3262a">C</tspan><tspan fill="#e3262a">C</tspan></text>
<line x1="417.4" y1="947.99" x2="609.6" y2="947.99" stroke="#222" stroke-width="0.8"/>
<text x="423.4" y="956.89" font-size="8.3" text-anchor="start" fill="#111">ATM1508901TC01</text>
<text x="535" y="956.89" font-size="8.5" text-anchor="middle"><tspan fill="#3b7bc4">G</tspan><tspan fill="#e3262a">C</tspan></text>
<text x="587.6" y="956.89" font-size="8.5" text-anchor="middle"><tspan fill="#e3262a">C</tspan><tspan fill="#e3262a">C</tspan></text>
<line x1="417.4" y1="958.09" x2="609.6" y2="958.09" stroke="#222" stroke-width="0.8"/>
<text x="423.4" y="966.99" font-size="8.3" text-anchor="start" fill="#111">ATM1509801TC01</text>
<text x="535" y="966.99" font-size="8.5" text-anchor="middle"><tspan fill="#3b7bc4">G</tspan><tspan fill="#e3262a">C</tspan></text>
<text x="587.6" y="966.99" font-size="8.5" text-anchor="middle"><tspan fill="#e3262a">C</tspan><tspan fill="#e3262a">C</tspan></text>
<line x1="417.4" y1="968.20" x2="609.6" y2="968.20" stroke="#222" stroke-width="0.8"/>
<rect x="417.4" y="796.4" width="192.2" height="171.80000000000007" fill="none" stroke="#222" stroke-width="0.9"/>
<line x1="505.6" y1="796.4" x2="505.6" y2="968.2" stroke="#222" stroke-width="0.8"/>
<line x1="565.3" y1="796.4" x2="565.3" y2="968.2" stroke="#222" stroke-width="0.8"/>
<text x="523.6" y="989.3" font-size="13.3" text-anchor="middle" fill="#111">G-C mutation rate: 17%</text>
</svg></body></html>
